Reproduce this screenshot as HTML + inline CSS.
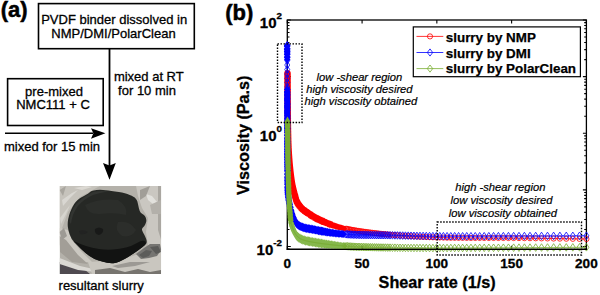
<!DOCTYPE html>
<html><head><meta charset="utf-8">
<style>
html,body{margin:0;padding:0;background:#fff;}
body{width:600px;height:295px;overflow:hidden;}
svg{display:block;font-family:"Liberation Sans",sans-serif;}
</style></head><body>
<svg width="600" height="295" viewBox="0 0 600 295">
<defs>
<clipPath id="plot"><rect x="287.3" y="20.0" width="299.09999999999997" height="229.3"/></clipPath>
<clipPath id="dense"><rect x="287.3" y="20.0" width="134.6" height="229.3"/></clipPath>
<clipPath id="photo"><rect x="59.6" y="185.9" width="101.6" height="88"/></clipPath>
</defs>
<!-- panel a -->
<text x="0.8" y="17.3" font-size="22" font-weight="bold" stroke="#000" stroke-width="0.5">(a)</text>
<rect x="38.5" y="3.6" width="155.8" height="45.1" fill="none" stroke="#000" stroke-width="1.6"/>
<g font-size="13" text-anchor="middle" stroke="#000" stroke-width="0.3">
<text x="114.2" y="24">PVDF binder dissolved in</text>
<text x="113.5" y="38">NMP/DMI/PolarClean</text>
<text x="54" y="95.6">pre-mixed</text>
<text x="53" y="109">NMC111 + C</text>
<text x="52" y="150.8">mixed for 15 min</text>
<text x="148.8" y="81">mixed at RT</text>
<text x="147" y="95">for 10 min</text>
<text x="101.2" y="290.3">resultant slurry</text>
</g>
<rect x="7.6" y="78.7" width="95.6" height="46.8" fill="none" stroke="#000" stroke-width="1.6"/>
<path d="M109.5,48.7V166" stroke="#000" stroke-width="1.8"/>
<path d="M103,163 L109.5,165.5 L115.8,163 L109.5,179.7Z" fill="#000"/>
<path d="M5,133.2H93" stroke="#000" stroke-width="1.6"/>
<path d="M91,128.3 L93.4,133.2 L91,138.8 L105.4,133.2Z" fill="#000"/>
<!-- photo -->
<g clip-path="url(#photo)">
<rect x="59.6" y="185.9" width="101.6" height="88" fill="#b4b1aa"/>
<path d="M59.6,185.9H100L80,197L68,212L59.6,235Z" fill="#c6c3bc"/>
<path d="M62,200L72,193L78,190L70,198L63,206Z" fill="#d9d7d2"/>
<path d="M60,218L66,210L70,205L66,214L61,224Z" fill="#d6d4ce"/>
<path d="M74,188L86,186L92,187L82,190Z" fill="#dcd9d3"/>
<path d="M59.6,228L68,230L72,240L80,250L92,262L75,262L62,250L59.6,245Z" fill="#cbc8c1"/>
<path d="M59.6,236L66,240L78,255L88,264L72,262L60,252Z" fill="#a29e97"/>
<path d="M59.6,262L72,266L85,270L90,274H59.6Z" fill="#4f4a50"/>
<path d="M59.6,258L80,266L98,270L112,266L96,272L78,270L59.6,264Z" fill="#dad8d3"/>
<path d="M88,262L120,260L145,252L161,248V274H92Z" fill="#c9c6bf"/>
<path d="M95,270L110,268L125,272L138,269L150,272L161,270V274H95Z" fill="#77746f"/>
<path d="M136,185.9H161.2V250L148,246L146,232L148,218L142,208L138,196Z" fill="#cac7c1"/>
<path d="M146,194L152,196L157,202L153,204L148,200Z" fill="#e2e1dd"/>
<path d="M158,185.9H161.2V240L158,230Z" fill="#aaa7a1"/>
<path d="M136,254L144,248L150,244L160,244L161.2,250L157,256L149,258L141,259Z" fill="#767572"/>
<path d="M139,255L146,250L152,251L149,256L143,258Z" fill="#5c5c5a"/>
<path d="M150,247L158,246L161,252L156,254Z" fill="#5a5a58"/>
<path d="M140,190L150,186L146,196L140,200Z" fill="#a19e98"/>
<path d="M150,205L161,200V214L152,214Z" fill="#b3b0aa"/>
<path d="M59.6,190L66,186L63,196Z" fill="#a9a69f"/>
<path d="M59.6,232L64,228L67,236L62,240Z" fill="#9d9a94"/>
<path d="M112,266L130,262L150,262L135,266L118,268Z" fill="#9c9994"/>
<path d="M67.8,226.5Q67.5,223.0 68.2,219.0Q69.0,215.0 70.1,212.2Q71.2,209.4 72.6,206.7Q74.0,204.0 75.7,202.1Q77.3,200.2 79.2,198.8Q81.0,197.5 83.0,196.6Q84.9,195.7 86.5,194.6Q88.0,193.5 89.2,192.7Q90.3,191.9 91.7,191.1Q93.0,190.2 96.6,189.9Q100.2,189.6 103.1,189.9Q106.0,190.2 108.5,190.6Q111.0,191.1 115.0,191.5Q119.1,191.9 122.0,192.4Q125.0,193.0 127.4,193.9Q129.8,194.9 131.7,195.7Q133.5,196.5 134.7,197.6Q135.9,198.7 136.7,200.1Q137.5,201.5 137.8,203.2Q138.2,204.8 138.9,208.2Q139.7,211.7 140.8,212.8Q142.0,213.8 143.6,214.7Q145.1,215.5 145.8,217.8Q146.6,220.1 146.2,221.8Q145.8,223.5 145.1,224.8Q144.3,226.2 142.9,227.6Q141.5,229.0 142.2,230.5Q142.8,232.0 143.9,234.1Q145.1,236.1 146.2,239.1Q147.3,242.2 146.2,243.7Q145.1,245.2 142.6,247.1Q140.0,249.0 137.2,250.9Q134.4,252.9 131.2,254.9Q128.0,257.0 125.1,258.8Q122.2,260.5 119.1,261.8Q116.0,263.0 113.5,263.2Q111.0,263.5 107.1,262.8Q103.2,262.0 98.6,260.5Q94.0,259.0 89.5,255.9Q84.9,252.9 81.1,249.1Q77.3,245.2 74.2,242.1Q71.2,239.1 69.7,234.6Q68.1,230.0 67.8,226.5Z" fill="#262825"/>
<path d="M69.5,222Q70,212 76,204Q84,196 93,192Q100,190.5 108,191.5Q100,192.5 93,195Q84,199 78,206Q72,214 71,224Z" fill="#323431"/>
<path d="M85,205Q100,198 118,200Q128,206 126,215Q115,212 100,214Q88,215 85,205Z" fill="#2c2e2b"/>
<path d="M118,222Q130,220 136,230Q132,238 122,236Q114,230 118,222Z" fill="#2c2e2b"/>
<path d="M76.0,242.0Q80.0,244.0 86.0,246.0Q92.0,248.0 99.0,249.0Q106.0,250.0 113.0,249.5Q120.0,249.0 126.0,247.5Q132.0,246.0 137.0,243.0Q142.0,240.0 144.2,241.0Q146.5,242.0 145.8,243.6Q145.0,245.2 142.5,247.1Q140.0,249.0 137.2,250.9Q134.4,252.9 131.2,254.9Q128.0,257.0 125.1,258.8Q122.2,260.5 119.1,261.8Q116.0,263.0 113.5,263.2Q111.0,263.5 107.1,262.8Q103.2,262.0 98.6,260.5Q94.0,259.0 89.5,255.9Q84.9,252.9 81.1,249.1Q77.3,245.2 74.7,242.6Q72.0,240.0 76.0,242.0Z" fill="#121312"/>
<path d="M95,229Q99,226 103,229Q104,233 99,235Q94,234 95,229Z" fill="#181918"/>
<path d="M79,231Q84,229 88,232Q85,235 80,234Z" fill="#222322"/>
</g>
<!-- panel b -->
<text x="225.3" y="20.1" font-size="22" font-weight="bold" stroke="#000" stroke-width="0.5">(b)</text>
<g font-size="13.6" font-weight="bold" stroke="#000" stroke-width="0.3">
<text x="287.30" y="268.4" text-anchor="middle">0</text><text x="362.08" y="268.4" text-anchor="middle">50</text><text x="436.85" y="268.4" text-anchor="middle">100</text><text x="511.62" y="268.4" text-anchor="middle">150</text><text x="586.40" y="268.4" text-anchor="middle">200</text>
<text x="282" y="27.6" text-anchor="end" font-size="15">10<tspan font-size="9.8" dy="-8.8">2</tspan></text>
<text x="282" y="140.8" text-anchor="end" font-size="15">10<tspan font-size="9.8" dy="-8.8">0</tspan></text>
<text x="282" y="254.6" text-anchor="end" font-size="15">10<tspan font-size="9.8" dy="-8.8">-2</tspan></text>
</g>
<text x="437.1" y="288" font-size="16.2" font-weight="bold" text-anchor="middle" stroke="#000" stroke-width="0.3">Shear rate (1/s)</text>
<text transform="translate(249.3,135.2) rotate(-90)" font-size="16.2" font-weight="bold" text-anchor="middle" stroke="#000" stroke-width="0.3">Viscosity (Pa.s)</text>
<rect x="287.3" y="20.0" width="299.1" height="229.3" fill="none" stroke="#000" stroke-width="1.3"/>
<path d="M287.30,249.3v-3.5M287.30,20.0v3.5M362.08,249.3v-3.5M362.08,20.0v3.5M436.85,249.3v-3.5M436.85,20.0v3.5M511.62,249.3v-3.5M511.62,20.0v3.5M586.40,249.3v-3.5M586.40,20.0v3.5M287.3,246.50h3.5M586.4,246.50h-3.5M287.3,189.88h3.5M586.4,189.88h-3.5M287.3,133.25h3.5M586.4,133.25h-3.5M287.3,76.62h3.5M586.4,76.62h-3.5M287.3,20.00h3.5M586.4,20.00h-3.5M287.3,249.09h2.2M586.4,249.09h-2.2M287.3,229.45h2.2M586.4,229.45h-2.2M287.3,219.48h2.2M586.4,219.48h-2.2M287.3,212.41h2.2M586.4,212.41h-2.2M287.3,206.92h2.2M586.4,206.92h-2.2M287.3,202.44h2.2M586.4,202.44h-2.2M287.3,198.65h2.2M586.4,198.65h-2.2M287.3,195.36h2.2M586.4,195.36h-2.2M287.3,192.47h2.2M586.4,192.47h-2.2M287.3,172.83h2.2M586.4,172.83h-2.2M287.3,162.86h2.2M586.4,162.86h-2.2M287.3,155.78h2.2M586.4,155.78h-2.2M287.3,150.30h2.2M586.4,150.30h-2.2M287.3,145.81h2.2M586.4,145.81h-2.2M287.3,142.02h2.2M586.4,142.02h-2.2M287.3,138.74h2.2M586.4,138.74h-2.2M287.3,135.84h2.2M586.4,135.84h-2.2M287.3,116.20h2.2M586.4,116.20h-2.2M287.3,106.23h2.2M586.4,106.23h-2.2M287.3,99.16h2.2M586.4,99.16h-2.2M287.3,93.67h2.2M586.4,93.67h-2.2M287.3,89.19h2.2M586.4,89.19h-2.2M287.3,85.40h2.2M586.4,85.40h-2.2M287.3,82.11h2.2M586.4,82.11h-2.2M287.3,79.22h2.2M586.4,79.22h-2.2M287.3,59.58h2.2M586.4,59.58h-2.2M287.3,49.61h2.2M586.4,49.61h-2.2M287.3,42.53h2.2M586.4,42.53h-2.2M287.3,37.05h2.2M586.4,37.05h-2.2M287.3,32.56h2.2M586.4,32.56h-2.2M287.3,28.77h2.2M586.4,28.77h-2.2M287.3,25.49h2.2M586.4,25.49h-2.2M287.3,22.59h2.2M586.4,22.59h-2.2" stroke="#000" stroke-width="1.1" fill="none"/>
<g>
<path d="M284.20,73.50a3.30,3.60 0 1,0 6.60,0a3.30,3.60 0 1,0 -6.60,0M284.21,74.50a3.30,3.60 0 1,0 6.60,0a3.30,3.60 0 1,0 -6.60,0M284.21,75.50a3.30,3.60 0 1,0 6.60,0a3.30,3.60 0 1,0 -6.60,0M284.22,76.50a3.30,3.60 0 1,0 6.60,0a3.30,3.60 0 1,0 -6.60,0M284.23,78.00a3.30,3.60 0 1,0 6.60,0a3.30,3.60 0 1,0 -6.60,0M284.23,79.00a3.30,3.60 0 1,0 6.60,0a3.30,3.60 0 1,0 -6.60,0M284.24,80.00a3.30,3.60 0 1,0 6.60,0a3.30,3.60 0 1,0 -6.60,0M284.24,81.50a3.30,3.60 0 1,0 6.60,0a3.30,3.60 0 1,0 -6.60,0M284.25,82.50a3.30,3.60 0 1,0 6.60,0a3.30,3.60 0 1,0 -6.60,0M284.25,84.00a3.30,3.60 0 1,0 6.60,0a3.30,3.60 0 1,0 -6.60,0M284.26,85.50a3.30,3.60 0 1,0 6.60,0a3.30,3.60 0 1,0 -6.60,0M284.26,86.50a3.30,3.60 0 1,0 6.60,0a3.30,3.60 0 1,0 -6.60,0M284.27,88.00a3.30,3.60 0 1,0 6.60,0a3.30,3.60 0 1,0 -6.60,0M284.27,89.00a3.30,3.60 0 1,0 6.60,0a3.30,3.60 0 1,0 -6.60,0M284.28,90.50a3.30,3.60 0 1,0 6.60,0a3.30,3.60 0 1,0 -6.60,0M284.28,91.50a3.30,3.60 0 1,0 6.60,0a3.30,3.60 0 1,0 -6.60,0M284.29,93.00a3.30,3.60 0 1,0 6.60,0a3.30,3.60 0 1,0 -6.60,0M284.29,94.50a3.30,3.60 0 1,0 6.60,0a3.30,3.60 0 1,0 -6.60,0M284.30,96.00a3.30,3.60 0 1,0 6.60,0a3.30,3.60 0 1,0 -6.60,0M284.30,97.50a3.30,3.60 0 1,0 6.60,0a3.30,3.60 0 1,0 -6.60,0M284.31,99.00a3.30,3.60 0 1,0 6.60,0a3.30,3.60 0 1,0 -6.60,0M284.31,100.00a3.30,3.60 0 1,0 6.60,0a3.30,3.60 0 1,0 -6.60,0M284.32,101.50a3.30,3.60 0 1,0 6.60,0a3.30,3.60 0 1,0 -6.60,0M284.33,102.50a3.30,3.60 0 1,0 6.60,0a3.30,3.60 0 1,0 -6.60,0M284.33,103.50a3.30,3.60 0 1,0 6.60,0a3.30,3.60 0 1,0 -6.60,0M284.34,104.50a3.30,3.60 0 1,0 6.60,0a3.30,3.60 0 1,0 -6.60,0M284.35,106.00a3.30,3.60 0 1,0 6.60,0a3.30,3.60 0 1,0 -6.60,0M284.36,107.50a3.30,3.60 0 1,0 6.60,0a3.30,3.60 0 1,0 -6.60,0M284.37,108.50a3.30,3.60 0 1,0 6.60,0a3.30,3.60 0 1,0 -6.60,0M284.38,110.00a3.30,3.60 0 1,0 6.60,0a3.30,3.60 0 1,0 -6.60,0M284.39,111.00a3.30,3.60 0 1,0 6.60,0a3.30,3.60 0 1,0 -6.60,0M284.40,112.50a3.30,3.60 0 1,0 6.60,0a3.30,3.60 0 1,0 -6.60,0M284.42,114.00a3.30,3.60 0 1,0 6.60,0a3.30,3.60 0 1,0 -6.60,0M284.44,115.50a3.30,3.60 0 1,0 6.60,0a3.30,3.60 0 1,0 -6.60,0M284.46,117.00a3.30,3.60 0 1,0 6.60,0a3.30,3.60 0 1,0 -6.60,0M284.47,118.00a3.30,3.60 0 1,0 6.60,0a3.30,3.60 0 1,0 -6.60,0M284.49,119.00a3.30,3.60 0 1,0 6.60,0a3.30,3.60 0 1,0 -6.60,0M284.51,120.50a3.30,3.60 0 1,0 6.60,0a3.30,3.60 0 1,0 -6.60,0M284.52,121.50a3.30,3.60 0 1,0 6.60,0a3.30,3.60 0 1,0 -6.60,0M284.54,122.50a3.30,3.60 0 1,0 6.60,0a3.30,3.60 0 1,0 -6.60,0M284.57,124.00a3.30,3.60 0 1,0 6.60,0a3.30,3.60 0 1,0 -6.60,0M284.59,125.50a3.30,3.60 0 1,0 6.60,0a3.30,3.60 0 1,0 -6.60,0M284.62,127.00a3.30,3.60 0 1,0 6.60,0a3.30,3.60 0 1,0 -6.60,0M284.64,128.50a3.30,3.60 0 1,0 6.60,0a3.30,3.60 0 1,0 -6.60,0M284.67,130.00a3.30,3.60 0 1,0 6.60,0a3.30,3.60 0 1,0 -6.60,0M284.70,131.50a3.30,3.60 0 1,0 6.60,0a3.30,3.60 0 1,0 -6.60,0M284.73,133.00a3.30,3.60 0 1,0 6.60,0a3.30,3.60 0 1,0 -6.60,0M284.76,134.50a3.30,3.60 0 1,0 6.60,0a3.30,3.60 0 1,0 -6.60,0M284.78,135.50a3.30,3.60 0 1,0 6.60,0a3.30,3.60 0 1,0 -6.60,0M284.82,137.00a3.30,3.60 0 1,0 6.60,0a3.30,3.60 0 1,0 -6.60,0M284.86,138.50a3.30,3.60 0 1,0 6.60,0a3.30,3.60 0 1,0 -6.60,0M284.90,139.99a3.30,3.60 0 1,0 6.60,0a3.30,3.60 0 1,0 -6.60,0M284.95,141.49a3.30,3.60 0 1,0 6.60,0a3.30,3.60 0 1,0 -6.60,0M285.00,142.99a3.30,3.60 0 1,0 6.60,0a3.30,3.60 0 1,0 -6.60,0M285.05,144.49a3.30,3.60 0 1,0 6.60,0a3.30,3.60 0 1,0 -6.60,0M285.11,145.99a3.30,3.60 0 1,0 6.60,0a3.30,3.60 0 1,0 -6.60,0M285.15,146.99a3.30,3.60 0 1,0 6.60,0a3.30,3.60 0 1,0 -6.60,0M285.22,148.49a3.30,3.60 0 1,0 6.60,0a3.30,3.60 0 1,0 -6.60,0M285.30,149.99a3.30,3.60 0 1,0 6.60,0a3.30,3.60 0 1,0 -6.60,0M285.38,151.48a3.30,3.60 0 1,0 6.60,0a3.30,3.60 0 1,0 -6.60,0M285.47,152.98a3.30,3.60 0 1,0 6.60,0a3.30,3.60 0 1,0 -6.60,0M285.56,154.48a3.30,3.60 0 1,0 6.60,0a3.30,3.60 0 1,0 -6.60,0M285.66,155.98a3.30,3.60 0 1,0 6.60,0a3.30,3.60 0 1,0 -6.60,0M285.73,156.97a3.30,3.60 0 1,0 6.60,0a3.30,3.60 0 1,0 -6.60,0M285.84,158.47a3.30,3.60 0 1,0 6.60,0a3.30,3.60 0 1,0 -6.60,0M285.96,159.96a3.30,3.60 0 1,0 6.60,0a3.30,3.60 0 1,0 -6.60,0M286.08,161.46a3.30,3.60 0 1,0 6.60,0a3.30,3.60 0 1,0 -6.60,0M286.20,162.95a3.30,3.60 0 1,0 6.60,0a3.30,3.60 0 1,0 -6.60,0M286.34,164.45a3.30,3.60 0 1,0 6.60,0a3.30,3.60 0 1,0 -6.60,0M286.48,165.94a3.30,3.60 0 1,0 6.60,0a3.30,3.60 0 1,0 -6.60,0M286.63,167.43a3.30,3.60 0 1,0 6.60,0a3.30,3.60 0 1,0 -6.60,0M286.73,168.43a3.30,3.60 0 1,0 6.60,0a3.30,3.60 0 1,0 -6.60,0M286.89,169.92a3.30,3.60 0 1,0 6.60,0a3.30,3.60 0 1,0 -6.60,0M287.06,171.41a3.30,3.60 0 1,0 6.60,0a3.30,3.60 0 1,0 -6.60,0M287.17,172.40a3.30,3.60 0 1,0 6.60,0a3.30,3.60 0 1,0 -6.60,0M287.34,173.89a3.30,3.60 0 1,0 6.60,0a3.30,3.60 0 1,0 -6.60,0M287.53,175.38a3.30,3.60 0 1,0 6.60,0a3.30,3.60 0 1,0 -6.60,0M287.65,176.38a3.30,3.60 0 1,0 6.60,0a3.30,3.60 0 1,0 -6.60,0M287.85,177.86a3.30,3.60 0 1,0 6.60,0a3.30,3.60 0 1,0 -6.60,0M287.99,178.85a3.30,3.60 0 1,0 6.60,0a3.30,3.60 0 1,0 -6.60,0M288.20,180.34a3.30,3.60 0 1,0 6.60,0a3.30,3.60 0 1,0 -6.60,0M288.36,181.33a3.30,3.60 0 1,0 6.60,0a3.30,3.60 0 1,0 -6.60,0M288.60,182.81a3.30,3.60 0 1,0 6.60,0a3.30,3.60 0 1,0 -6.60,0M288.87,184.28a3.30,3.60 0 1,0 6.60,0a3.30,3.60 0 1,0 -6.60,0M289.15,185.75a3.30,3.60 0 1,0 6.60,0a3.30,3.60 0 1,0 -6.60,0M289.47,187.22a3.30,3.60 0 1,0 6.60,0a3.30,3.60 0 1,0 -6.60,0M289.81,188.68a3.30,3.60 0 1,0 6.60,0a3.30,3.60 0 1,0 -6.60,0M290.17,190.14a3.30,3.60 0 1,0 6.60,0a3.30,3.60 0 1,0 -6.60,0M290.55,191.59a3.30,3.60 0 1,0 6.60,0a3.30,3.60 0 1,0 -6.60,0M290.95,193.03a3.30,3.60 0 1,0 6.60,0a3.30,3.60 0 1,0 -6.60,0M291.35,194.48a3.30,3.60 0 1,0 6.60,0a3.30,3.60 0 1,0 -6.60,0M291.75,195.93a3.30,3.60 0 1,0 6.60,0a3.30,3.60 0 1,0 -6.60,0M292.12,197.38a3.30,3.60 0 1,0 6.60,0a3.30,3.60 0 1,0 -6.60,0M292.50,198.83a3.30,3.60 0 1,0 6.60,0a3.30,3.60 0 1,0 -6.60,0M292.95,200.26a3.30,3.60 0 1,0 6.60,0a3.30,3.60 0 1,0 -6.60,0M293.53,201.64a3.30,3.60 0 1,0 6.60,0a3.30,3.60 0 1,0 -6.60,0M294.24,202.97a3.30,3.60 0 1,0 6.60,0a3.30,3.60 0 1,0 -6.60,0M295.04,204.23a3.30,3.60 0 1,0 6.60,0a3.30,3.60 0 1,0 -6.60,0M295.92,205.45a3.30,3.60 0 1,0 6.60,0a3.30,3.60 0 1,0 -6.60,0M296.86,206.61a3.30,3.60 0 1,0 6.60,0a3.30,3.60 0 1,0 -6.60,0M297.86,207.73a3.30,3.60 0 1,0 6.60,0a3.30,3.60 0 1,0 -6.60,0M298.91,208.80a3.30,3.60 0 1,0 6.60,0a3.30,3.60 0 1,0 -6.60,0M300.03,209.79a3.30,3.60 0 1,0 6.60,0a3.30,3.60 0 1,0 -6.60,0M301.22,210.71a3.30,3.60 0 1,0 6.60,0a3.30,3.60 0 1,0 -6.60,0M302.44,211.58a3.30,3.60 0 1,0 6.60,0a3.30,3.60 0 1,0 -6.60,0M303.69,212.42a3.30,3.60 0 1,0 6.60,0a3.30,3.60 0 1,0 -6.60,0M304.93,213.25a3.30,3.60 0 1,0 6.60,0a3.30,3.60 0 1,0 -6.60,0M306.18,214.09a3.30,3.60 0 1,0 6.60,0a3.30,3.60 0 1,0 -6.60,0M307.43,214.92a3.30,3.60 0 1,0 6.60,0a3.30,3.60 0 1,0 -6.60,0M308.69,215.73a3.30,3.60 0 1,0 6.60,0a3.30,3.60 0 1,0 -6.60,0M309.97,216.52a3.30,3.60 0 1,0 6.60,0a3.30,3.60 0 1,0 -6.60,0M311.26,217.28a3.30,3.60 0 1,0 6.60,0a3.30,3.60 0 1,0 -6.60,0M312.57,218.01a3.30,3.60 0 1,0 6.60,0a3.30,3.60 0 1,0 -6.60,0M313.90,218.71a3.30,3.60 0 1,0 6.60,0a3.30,3.60 0 1,0 -6.60,0M315.24,219.38a3.30,3.60 0 1,0 6.60,0a3.30,3.60 0 1,0 -6.60,0M316.60,220.02a3.30,3.60 0 1,0 6.60,0a3.30,3.60 0 1,0 -6.60,0M318.00,220.63a3.26,3.55 0 1,0 6.53,0a3.26,3.55 0 1,0 -6.53,0M319.41,221.23a3.23,3.49 0 1,0 6.45,0a3.23,3.49 0 1,0 -6.45,0M320.83,221.83a3.19,3.44 0 1,0 6.38,0a3.19,3.44 0 1,0 -6.38,0M321.77,222.22a3.16,3.40 0 1,0 6.32,0a3.16,3.40 0 1,0 -6.32,0M323.20,222.80a3.12,3.35 0 1,0 6.25,0a3.12,3.35 0 1,0 -6.25,0M324.62,223.36a3.08,3.29 0 1,0 6.17,0a3.08,3.29 0 1,0 -6.17,0M326.06,223.92a3.05,3.24 0 1,0 6.09,0a3.05,3.24 0 1,0 -6.09,0M327.50,224.45a3.01,3.18 0 1,0 6.01,0a3.01,3.18 0 1,0 -6.01,0M328.46,224.80a2.98,3.14 0 1,0 5.96,0a2.98,3.14 0 1,0 -5.96,0M329.92,225.30a2.94,3.09 0 1,0 5.88,0a2.94,3.09 0 1,0 -5.88,0M330.89,225.62a2.91,3.05 0 1,0 5.83,0a2.91,3.05 0 1,0 -5.83,0M332.36,226.07a2.87,2.99 0 1,0 5.75,0a2.87,2.99 0 1,0 -5.75,0M333.84,226.49a2.83,2.93 0 1,0 5.67,0a2.83,2.93 0 1,0 -5.67,0M335.33,226.89a2.79,2.88 0 1,0 5.59,0a2.79,2.88 0 1,0 -5.59,0M336.82,227.27a2.75,2.82 0 1,0 5.50,0a2.75,2.82 0 1,0 -5.50,0M338.32,227.63a2.71,2.76 0 1,0 5.42,0a2.71,2.76 0 1,0 -5.42,0M339.82,227.96a2.67,2.70 0 1,0 5.34,0a2.67,2.70 0 1,0 -5.34,0M341.33,228.29a2.63,2.64 0 1,0 5.26,0a2.63,2.64 0 1,0 -5.26,0" fill="#ff0000"/>
<path d="M341.40,228.30a2.60,2.60 0 1,0 5.20,0a2.60,2.60 0 1,0 -5.20,0M342.40,228.51a2.60,2.60 0 1,0 5.20,0a2.60,2.60 0 1,0 -5.20,0M343.40,228.71a2.60,2.60 0 1,0 5.20,0a2.60,2.60 0 1,0 -5.20,0M344.40,228.91a2.60,2.60 0 1,0 5.20,0a2.60,2.60 0 1,0 -5.20,0M345.40,229.11a2.60,2.60 0 1,0 5.20,0a2.60,2.60 0 1,0 -5.20,0M346.40,229.31a2.60,2.60 0 1,0 5.20,0a2.60,2.60 0 1,0 -5.20,0M347.40,229.50a2.60,2.60 0 1,0 5.20,0a2.60,2.60 0 1,0 -5.20,0M348.40,229.69a2.60,2.60 0 1,0 5.20,0a2.60,2.60 0 1,0 -5.20,0M349.40,229.87a2.60,2.60 0 1,0 5.20,0a2.60,2.60 0 1,0 -5.20,0M350.40,230.05a2.60,2.60 0 1,0 5.20,0a2.60,2.60 0 1,0 -5.20,0M351.40,230.22a2.60,2.60 0 1,0 5.20,0a2.60,2.60 0 1,0 -5.20,0M352.40,230.39a2.60,2.60 0 1,0 5.20,0a2.60,2.60 0 1,0 -5.20,0M353.40,230.55a2.60,2.60 0 1,0 5.20,0a2.60,2.60 0 1,0 -5.20,0M354.40,230.71a2.60,2.60 0 1,0 5.20,0a2.60,2.60 0 1,0 -5.20,0M355.40,230.86a2.60,2.60 0 1,0 5.20,0a2.60,2.60 0 1,0 -5.20,0M356.40,231.01a2.60,2.60 0 1,0 5.20,0a2.60,2.60 0 1,0 -5.20,0M357.40,231.16a2.60,2.60 0 1,0 5.20,0a2.60,2.60 0 1,0 -5.20,0M358.40,231.31a2.60,2.60 0 1,0 5.20,0a2.60,2.60 0 1,0 -5.20,0M359.40,231.45a2.60,2.60 0 1,0 5.20,0a2.60,2.60 0 1,0 -5.20,0M360.40,231.59a2.60,2.60 0 1,0 5.20,0a2.60,2.60 0 1,0 -5.20,0M361.40,231.72a2.60,2.60 0 1,0 5.20,0a2.60,2.60 0 1,0 -5.20,0M362.40,231.86a2.60,2.60 0 1,0 5.20,0a2.60,2.60 0 1,0 -5.20,0M363.40,231.99a2.60,2.60 0 1,0 5.20,0a2.60,2.60 0 1,0 -5.20,0M364.40,232.12a2.60,2.60 0 1,0 5.20,0a2.60,2.60 0 1,0 -5.20,0M365.40,232.25a2.60,2.60 0 1,0 5.20,0a2.60,2.60 0 1,0 -5.20,0M366.40,232.37a2.60,2.60 0 1,0 5.20,0a2.60,2.60 0 1,0 -5.20,0M367.40,232.50a2.60,2.60 0 1,0 5.20,0a2.60,2.60 0 1,0 -5.20,0M368.40,232.62a2.60,2.60 0 1,0 5.20,0a2.60,2.60 0 1,0 -5.20,0M369.40,232.75a2.60,2.60 0 1,0 5.20,0a2.60,2.60 0 1,0 -5.20,0M370.40,232.87a2.60,2.60 0 1,0 5.20,0a2.60,2.60 0 1,0 -5.20,0M371.40,232.99a2.60,2.60 0 1,0 5.20,0a2.60,2.60 0 1,0 -5.20,0M372.40,233.10a2.60,2.60 0 1,0 5.20,0a2.60,2.60 0 1,0 -5.20,0M373.40,233.22a2.60,2.60 0 1,0 5.20,0a2.60,2.60 0 1,0 -5.20,0M374.40,233.33a2.60,2.60 0 1,0 5.20,0a2.60,2.60 0 1,0 -5.20,0M375.40,233.44a2.60,2.60 0 1,0 5.20,0a2.60,2.60 0 1,0 -5.20,0M376.40,233.55a2.60,2.60 0 1,0 5.20,0a2.60,2.60 0 1,0 -5.20,0M377.40,233.66a2.60,2.60 0 1,0 5.20,0a2.60,2.60 0 1,0 -5.20,0M378.40,233.77a2.60,2.60 0 1,0 5.20,0a2.60,2.60 0 1,0 -5.20,0M379.40,233.88a2.60,2.60 0 1,0 5.20,0a2.60,2.60 0 1,0 -5.20,0M380.40,233.98a2.60,2.60 0 1,0 5.20,0a2.60,2.60 0 1,0 -5.20,0M381.40,234.08a2.60,2.60 0 1,0 5.20,0a2.60,2.60 0 1,0 -5.20,0M382.40,234.18a2.60,2.60 0 1,0 5.20,0a2.60,2.60 0 1,0 -5.20,0M383.40,234.28a2.60,2.60 0 1,0 5.20,0a2.60,2.60 0 1,0 -5.20,0M384.40,234.38a2.60,2.60 0 1,0 5.20,0a2.60,2.60 0 1,0 -5.20,0M385.40,234.48a2.60,2.60 0 1,0 5.20,0a2.60,2.60 0 1,0 -5.20,0M386.40,234.57a2.60,2.60 0 1,0 5.20,0a2.60,2.60 0 1,0 -5.20,0" fill="#ff0000" opacity="0.35"/>
<path d="M287.50,73.00 L287.50,73.50 L287.51,74.00 L287.51,74.50 L287.51,75.00 L287.51,75.50 L287.52,76.00 L287.52,76.50 L287.52,77.00 L287.53,77.50 L287.53,78.00 L287.53,78.50 L287.53,79.00 L287.53,79.50 L287.54,80.00 L287.54,80.50 L287.54,81.00 L287.54,81.50 L287.55,82.00 L287.55,82.50 L287.55,83.00 L287.55,83.50 L287.55,84.00 L287.55,84.50 L287.56,85.00 L287.56,85.50 L287.56,86.00 L287.56,86.50 L287.56,87.00 L287.57,87.50 L287.57,88.00 L287.57,88.50 L287.57,89.00 L287.57,89.50 L287.57,90.00 L287.58,90.50 L287.58,91.00 L287.58,91.50 L287.58,92.00 L287.58,92.50 L287.59,93.00 L287.59,93.50 L287.59,94.00 L287.59,94.50 L287.59,95.00 L287.59,95.50 L287.60,96.00 L287.60,96.50 L287.60,97.00 L287.60,97.50 L287.61,98.00 L287.61,98.50 L287.61,99.00 L287.61,99.50 L287.61,100.00 L287.62,100.50 L287.62,101.00 L287.62,101.50 L287.62,102.00 L287.63,102.50 L287.63,103.00 L287.63,103.50 L287.64,104.00 L287.64,104.50 L287.64,105.00 L287.65,105.50 L287.65,106.00 L287.65,106.50 L287.66,107.00 L287.66,107.50 L287.66,108.00 L287.67,108.50 L287.67,109.00 L287.67,109.50 L287.68,110.00 L287.68,110.50 L287.69,111.00 L287.69,111.50 L287.70,112.00 L287.70,112.50 L287.71,113.00 L287.71,113.50 L287.72,114.00 L287.72,114.50 L287.73,115.00 L287.74,115.50 L287.74,116.00 L287.75,116.50 L287.76,117.00 L287.76,117.50 L287.77,118.00 L287.78,118.50 L287.79,119.00 L287.79,119.50 L287.80,120.00 L287.81,120.50 L287.82,121.00 L287.82,121.50 L287.83,122.00 L287.84,122.50 L287.85,123.00 L287.86,123.50 L287.87,124.00 L287.87,124.50 L287.88,125.00 L287.89,125.50 L287.90,126.00 L287.91,126.50 L287.92,127.00 L287.92,127.50 L287.93,128.00 L287.94,128.50 L287.95,129.00 L287.96,129.50 L287.97,130.00 L287.98,130.50 L287.99,131.00 L288.00,131.50 L288.01,132.00 L288.02,132.50 L288.03,133.00 L288.04,133.50 L288.05,134.00 L288.06,134.50 L288.07,135.00 L288.08,135.50 L288.09,136.00 L288.11,136.50 L288.12,137.00 L288.13,137.50 L288.14,138.00 L288.16,138.50 L288.17,139.00 L288.19,139.49 L288.20,139.99 L288.21,140.49 L288.23,140.99 L288.25,141.49 L288.26,141.99 L288.28,142.49 L288.30,142.99 L288.31,143.49 L288.33,143.99 L288.35,144.49 L288.37,144.99 L288.39,145.49 L288.41,145.99 L288.43,146.49 L288.45,146.99 L288.48,147.49 L288.50,147.99 L288.52,148.49 L288.55,148.99 L288.57,149.49 L288.60,149.99 L288.63,150.49 L288.65,150.98 L288.68,151.48 L288.71,151.98 L288.74,152.48 L288.77,152.98 L288.80,153.48 L288.83,153.98 L288.86,154.48 L288.90,154.98 L288.93,155.48 L288.96,155.98 L289.00,156.47 L289.03,156.97 L289.07,157.47 L289.10,157.97 L289.14,158.47 L289.18,158.97 L289.22,159.47 L289.26,159.96 L289.29,160.46 L289.34,160.96 L289.38,161.46 L289.42,161.96 L289.46,162.46 L289.50,162.95 L289.55,163.45 L289.59,163.95 L289.64,164.45 L289.69,164.95 L289.73,165.44 L289.78,165.94 L289.83,166.44 L289.88,166.94 L289.93,167.43 L289.98,167.93 L290.03,168.43 L290.08,168.93 L290.14,169.42 L290.19,169.92 L290.25,170.42 L290.30,170.91 L290.36,171.41 L290.41,171.91 L290.47,172.40 L290.53,172.90 L290.59,173.40 L290.64,173.89 L290.70,174.39 L290.77,174.89 L290.83,175.38 L290.89,175.88 L290.95,176.38 L291.02,176.87 L291.08,177.37 L291.15,177.86 L291.22,178.36 L291.29,178.85 L291.36,179.35 L291.43,179.84 L291.50,180.34 L291.58,180.83 L291.66,181.33 L291.74,181.82 L291.82,182.31 L291.90,182.81 L291.99,183.30 L292.07,183.79 L292.17,184.28 L292.26,184.77 L292.35,185.26 L292.45,185.75 L292.55,186.24 L292.66,186.73 L292.77,187.22 L292.88,187.71 L292.99,188.20 L293.11,188.68 L293.23,189.17 L293.35,189.65 L293.47,190.14 L293.60,190.62 L293.72,191.10 L293.85,191.59 L293.98,192.07 L294.12,192.55 L294.25,193.03 L294.38,193.52 L294.52,194.00 L294.65,194.48 L294.79,194.96 L294.92,195.44 L295.05,195.93 L295.17,196.41 L295.30,196.89 L295.42,197.38 L295.54,197.86 L295.67,198.35 L295.80,198.83 L295.94,199.31 L296.09,199.79 L296.25,200.26 L296.43,200.73 L296.62,201.19 L296.83,201.64 L297.05,202.09 L297.29,202.53 L297.54,202.97 L297.80,203.39 L298.06,203.82 L298.34,204.23 L298.63,204.64 L298.92,205.05 L299.22,205.45 L299.53,205.84 L299.84,206.23 L300.16,206.61 L300.49,206.99 L300.82,207.36 L301.16,207.73 L301.50,208.10 L301.85,208.45 L302.21,208.80 L302.58,209.14 L302.95,209.47 L303.33,209.79 L303.72,210.11 L304.12,210.42 L304.52,210.71 L304.92,211.01 L305.33,211.30 L305.74,211.58 L306.16,211.86 L306.57,212.14 L306.99,212.42 L307.40,212.70 L307.82,212.97 L308.23,213.25 L308.65,213.53 L309.06,213.81 L309.48,214.09 L309.89,214.37 L310.31,214.65 L310.73,214.92 L311.15,215.19 L311.57,215.47 L311.99,215.73 L312.41,216.00 L312.84,216.26 L313.27,216.52 L313.69,216.78 L314.13,217.03 L314.56,217.28 L314.99,217.53 L315.43,217.77 L315.87,218.01 L316.31,218.25 L316.75,218.48 L317.20,218.71 L317.64,218.94 L318.09,219.16 L318.54,219.38 L318.99,219.59 L319.44,219.81 L319.90,220.02 L320.35,220.22 L320.81,220.43 L321.26,220.63 L321.72,220.83 L322.18,221.03 L322.64,221.23 L323.10,221.43 L323.56,221.63 L324.02,221.83 L324.48,222.02 L324.94,222.22 L325.40,222.41 L325.86,222.61 L326.32,222.80 L326.78,222.99 L327.25,223.18 L327.71,223.36 L328.17,223.55 L328.64,223.73 L329.10,223.92 L329.57,224.10 L330.04,224.28 L330.50,224.45 L330.97,224.63 L331.44,224.80 L331.91,224.97 L332.38,225.13 L332.86,225.30 L333.33,225.46 L333.80,225.62 L334.28,225.77 L334.76,225.92 L335.23,226.07 L335.71,226.21 L336.19,226.36 L336.67,226.49 L337.15,226.63 L337.64,226.76 L338.12,226.89 L338.60,227.02 L339.09,227.15 L339.57,227.27 L340.06,227.39 L340.54,227.51 L341.03,227.63 L341.51,227.74 L342.00,227.85 L342.49,227.96 L342.98,228.07 L343.47,228.18 L343.95,228.29 L344.44,228.39 L344.93,228.49 L345.42,228.59 L345.91,228.70 L346.40,228.80 L346.89,228.89 L347.38,228.99 L347.87,229.09 L348.36,229.18 L348.85,229.28 L349.35,229.37 L349.84,229.47 L350.33,229.56 L350.82,229.65 L351.31,229.75 L351.80,229.83 L352.30,229.92 L352.79,230.01 L353.28,230.10 L353.77,230.18 L354.27,230.26 L354.76,230.35 L355.25,230.43 L355.75,230.51 L356.24,230.59 L356.73,230.67 L357.23,230.74 L357.72,230.82 L358.22,230.90 L358.71,230.97 L359.20,231.05 L359.70,231.12 L360.19,231.19 L360.69,231.26 L361.18,231.33 L361.68,231.40 L362.17,231.47 L362.67,231.54 L363.16,231.61 L363.66,231.68 L364.16,231.74 L364.65,231.81 L365.15,231.88 L365.64,231.94 L366.14,232.01 L366.63,232.07 L367.13,232.14 L367.63,232.20 L368.12,232.26 L368.62,232.33 L369.11,232.39 L369.61,232.45 L370.11,232.51 L370.60,232.57 L371.10,232.64 L371.59,232.70 L372.09,232.76 L372.59,232.82 L373.08,232.88 L373.58,232.94 L374.08,232.99 L374.57,233.05 L375.07,233.11 L375.57,233.17 L376.06,233.22 L376.56,233.28 L377.06,233.34 L377.55,233.39 L378.05,233.45 L378.55,233.50 L379.04,233.56 L379.54,233.61 L380.04,233.67 L380.54,233.72 L381.03,233.77 L381.53,233.83 L382.03,233.88 L382.52,233.93 L383.02,233.98 L383.52,234.03 L384.02,234.09 L384.51,234.14 L385.01,234.19 L385.51,234.23 L386.01,234.28 L386.50,234.33 L387.00,234.38 L387.50,234.43 L388.00,234.48 L388.50,234.52 L388.99,234.57 L389.49,234.62 L389.99,234.66 L390.49,234.71 L390.98,234.75 L391.48,234.80 L391.98,234.84 L392.48,234.89 L392.98,234.93 L393.48,234.97 L393.97,235.02 L394.47,235.06 L394.97,235.10 L395.47,235.14 L395.97,235.18 L396.46,235.22 L396.96,235.26 L397.46,235.30 L397.96,235.34 L398.46,235.38 L398.96,235.42 L399.46,235.46 L399.95,235.50 L400.45,235.53 L400.95,235.57 L401.45,235.61 L401.95,235.64 L402.45,235.68 L402.95,235.72 L403.44,235.75 L403.94,235.78 L404.44,235.82 L404.94,235.85 L405.44,235.89 L405.94,235.92 L406.44,235.96 L406.94,235.99 L407.44,236.02 L407.93,236.05 L408.43,236.09 L408.93,236.12 L409.43,236.15 L409.93,236.18 L410.43,236.21 L410.93,236.24 L411.43,236.27 L411.93,236.30 L412.43,236.33 L412.93,236.36 L413.42,236.39 L413.92,236.42 L414.42,236.45 L414.92,236.47 L415.42,236.50 L415.92,236.53 L416.42,236.56 L416.92,236.58 L417.42,236.61 L417.92,236.63 L418.42,236.66 L418.92,236.69 L419.42,236.71 L419.92,236.73 L420.41,236.76 L420.91,236.78 L421.41,236.81 L421.91,236.83 L422.41,236.85 L422.91,236.88 L423.41,236.90 L423.91,236.92 L424.41,236.94 L424.91,236.96 L425.41,236.99 L425.91,237.01 L426.41,237.03 L426.91,237.05 L427.41,237.07 L427.91,237.09 L428.41,237.11 L428.91,237.13 L429.41,237.15 L429.91,237.17 L430.41,237.18 L430.91,237.20 L431.40,237.22 L431.90,237.24 L432.40,237.26 L432.90,237.27 L433.40,237.29 L433.90,237.31 L434.40,237.32 L434.90,237.34 L435.40,237.36 L435.90,237.38 L436.40,237.39 L436.90,237.41 L437.40,237.42 L437.90,237.44 L438.40,237.45 L438.90,237.47 L439.40,237.48 L439.90,237.50 L440.40,237.51 L440.90,237.52 L441.40,237.53 L441.90,237.55 L442.40,237.56 L442.90,237.57 L443.40,237.58 L443.90,237.60 L444.40,237.61 L444.90,237.62 L445.40,237.63 L445.90,237.64 L446.40,237.65 L446.90,237.66 L447.40,237.67 L447.90,237.68 L448.40,237.69 L448.90,237.70 L449.40,237.70 L449.90,237.71 L450.40,237.72 L450.90,237.73 L451.40,237.74 L451.90,237.75 L452.40,237.75 L452.90,237.76 L453.40,237.77 L453.90,237.77 L454.40,237.78 L454.90,237.78 L455.40,237.79 L455.90,237.80 L456.40,237.80 L456.90,237.81 L457.40,237.81 L457.90,237.82 L458.40,237.83 L458.90,237.83 L459.40,237.83 L459.90,237.84 L460.40,237.84 L460.90,237.85 L461.40,237.85 L461.90,237.85 L462.40,237.86 L462.90,237.86 L463.40,237.87 L463.90,237.87 L464.40,237.87 L464.90,237.88 L465.40,237.88 L465.90,237.88 L466.40,237.89 L466.90,237.89 L467.40,237.89 L467.90,237.89 L468.40,237.90 L468.90,237.90 L469.40,237.90 L469.90,237.90 L470.40,237.91 L470.90,237.91 L471.40,237.91 L471.90,237.91 L472.40,237.92 L472.90,237.92 L473.40,237.92 L473.90,237.92 L474.40,237.92 L474.90,237.92 L475.40,237.93 L475.90,237.93 L476.40,237.93 L476.90,237.93 L477.40,237.93 L477.90,237.93 L478.40,237.94 L478.90,237.94 L479.40,237.94 L479.90,237.94 L480.40,237.94 L480.90,237.94 L481.40,237.94 L481.90,237.94 L482.40,237.95 L482.90,237.95 L483.40,237.95 L483.90,237.95 L484.40,237.95 L484.90,237.95 L485.40,237.95 L485.90,237.95 L486.40,237.95 L486.90,237.96 L487.40,237.96 L487.90,237.96 L488.40,237.96 L488.90,237.96 L489.40,237.96 L489.90,237.96 L490.40,237.96 L490.90,237.96 L491.40,237.96 L491.90,237.96 L492.40,237.97 L492.90,237.97 L493.40,237.97 L493.90,237.97 L494.40,237.97 L494.90,237.97 L495.40,237.97 L495.90,237.97 L496.40,237.97 L496.90,237.98 L497.40,237.98 L497.90,237.98 L498.40,237.98 L498.90,237.98 L499.40,237.98 L499.90,237.98 L500.40,237.98 L500.90,237.99 L501.40,237.99 L501.90,237.99 L502.40,237.99 L502.90,237.99 L503.40,237.99 L503.90,238.00 L504.40,238.00 L504.90,238.00 L505.40,238.00 L505.90,238.00 L506.40,238.01 L506.90,238.01 L507.40,238.01 L507.90,238.01 L508.40,238.02 L508.90,238.02 L509.40,238.02 L509.90,238.02 L510.40,238.03 L510.90,238.03 L511.40,238.03 L511.90,238.04 L512.40,238.04 L512.90,238.04 L513.40,238.04 L513.90,238.05 L514.40,238.05 L514.90,238.06 L515.40,238.06 L515.90,238.06 L516.40,238.07 L516.90,238.07 L517.40,238.08 L517.90,238.08 L518.40,238.09 L518.90,238.09 L519.40,238.09 L519.90,238.10 L520.40,238.10 L520.90,238.11 L521.40,238.12 L521.90,238.12 L522.40,238.13 L522.90,238.13 L523.40,238.14 L523.90,238.14 L524.40,238.15 L524.90,238.15 L525.40,238.16 L525.90,238.16 L526.40,238.17 L526.90,238.18 L527.40,238.18 L527.90,238.19 L528.40,238.19 L528.90,238.20 L529.40,238.21 L529.90,238.21 L530.40,238.22 L530.90,238.22 L531.40,238.23 L531.90,238.24 L532.40,238.24 L532.90,238.25 L533.40,238.26 L533.90,238.26 L534.40,238.27 L534.90,238.27 L535.40,238.28 L535.90,238.29 L536.40,238.29 L536.90,238.30 L537.40,238.31 L537.90,238.31 L538.40,238.32 L538.90,238.33 L539.39,238.33 L539.89,238.34 L540.39,238.35 L540.89,238.35 L541.39,238.36 L541.89,238.37 L542.39,238.37 L542.89,238.38 L543.39,238.39 L543.89,238.39 L544.39,238.40 L544.89,238.41 L545.39,238.41 L545.89,238.42 L546.39,238.43 L546.89,238.43 L547.39,238.44 L547.89,238.45 L548.39,238.46 L548.89,238.46 L549.39,238.47 L549.89,238.48 L550.39,238.48 L550.89,238.49 L551.39,238.50 L551.89,238.50 L552.39,238.51 L552.89,238.52 L553.39,238.53 L553.89,238.53 L554.39,238.54 L554.89,238.55 L555.39,238.56 L555.89,238.56 L556.39,238.57 L556.89,238.58 L557.39,238.58 L557.89,238.59 L558.39,238.60 L558.89,238.61 L559.39,238.61 L559.89,238.62 L560.39,238.63 L560.89,238.63 L561.39,238.64 L561.89,238.65 L562.39,238.66 L562.89,238.66 L563.39,238.67 L563.89,238.68 L564.39,238.69 L564.89,238.69 L565.39,238.70 L565.89,238.71 L566.39,238.72 L566.89,238.72 L567.39,238.73 L567.89,238.74 L568.39,238.74 L568.89,238.75 L569.39,238.76 L569.89,238.77 L570.39,238.77 L570.89,238.78 L571.39,238.79 L571.89,238.80 L572.39,238.80 L572.89,238.81 L573.39,238.82 L573.89,238.82 L574.39,238.83 L574.89,238.84 L575.39,238.85 L575.89,238.85 L576.39,238.86 L576.89,238.87 L577.39,238.87 L577.89,238.88 L578.39,238.89 L578.89,238.90 L579.39,238.90 L579.89,238.91 L580.39,238.92 L580.89,238.92 L581.39,238.93 L581.89,238.94 L582.39,238.94 L582.89,238.95 L583.39,238.96 L583.89,238.97 L584.39,238.97 L584.89,238.98 L585.39,238.99 L585.89,238.99 L586.39,239.00" fill="none" stroke="#ff0000" stroke-width="1"/>
<path d="M589.00,239.00a2.6,2.6 0 1,0 -5.2,0a2.6,2.6 0 1,0 5.2,0M582.13,238.90a2.6,2.6 0 1,0 -5.2,0a2.6,2.6 0 1,0 5.2,0M575.42,238.81a2.6,2.6 0 1,0 -5.2,0a2.6,2.6 0 1,0 5.2,0M568.87,238.71a2.6,2.6 0 1,0 -5.2,0a2.6,2.6 0 1,0 5.2,0M562.46,238.62a2.6,2.6 0 1,0 -5.2,0a2.6,2.6 0 1,0 5.2,0M556.20,238.53a2.6,2.6 0 1,0 -5.2,0a2.6,2.6 0 1,0 5.2,0M550.09,238.44a2.6,2.6 0 1,0 -5.2,0a2.6,2.6 0 1,0 5.2,0M544.12,238.36a2.6,2.6 0 1,0 -5.2,0a2.6,2.6 0 1,0 5.2,0M538.28,238.28a2.6,2.6 0 1,0 -5.2,0a2.6,2.6 0 1,0 5.2,0M532.58,238.21a2.6,2.6 0 1,0 -5.2,0a2.6,2.6 0 1,0 5.2,0M527.00,238.15a2.6,2.6 0 1,0 -5.2,0a2.6,2.6 0 1,0 5.2,0M521.56,238.09a2.6,2.6 0 1,0 -5.2,0a2.6,2.6 0 1,0 5.2,0M516.24,238.05a2.6,2.6 0 1,0 -5.2,0a2.6,2.6 0 1,0 5.2,0M511.04,238.02a2.6,2.6 0 1,0 -5.2,0a2.6,2.6 0 1,0 5.2,0M505.97,237.99a2.6,2.6 0 1,0 -5.2,0a2.6,2.6 0 1,0 5.2,0M501.01,237.98a2.6,2.6 0 1,0 -5.2,0a2.6,2.6 0 1,0 5.2,0M496.16,237.97a2.6,2.6 0 1,0 -5.2,0a2.6,2.6 0 1,0 5.2,0M491.42,237.96a2.6,2.6 0 1,0 -5.2,0a2.6,2.6 0 1,0 5.2,0M486.80,237.95a2.6,2.6 0 1,0 -5.2,0a2.6,2.6 0 1,0 5.2,0M482.27,237.94a2.6,2.6 0 1,0 -5.2,0a2.6,2.6 0 1,0 5.2,0M477.86,237.93a2.6,2.6 0 1,0 -5.2,0a2.6,2.6 0 1,0 5.2,0M473.54,237.91a2.6,2.6 0 1,0 -5.2,0a2.6,2.6 0 1,0 5.2,0M469.33,237.89a2.6,2.6 0 1,0 -5.2,0a2.6,2.6 0 1,0 5.2,0M465.21,237.86a2.6,2.6 0 1,0 -5.2,0a2.6,2.6 0 1,0 5.2,0M461.18,237.83a2.6,2.6 0 1,0 -5.2,0a2.6,2.6 0 1,0 5.2,0M457.25,237.78a2.6,2.6 0 1,0 -5.2,0a2.6,2.6 0 1,0 5.2,0M453.41,237.73a2.6,2.6 0 1,0 -5.2,0a2.6,2.6 0 1,0 5.2,0M449.65,237.66a2.6,2.6 0 1,0 -5.2,0a2.6,2.6 0 1,0 5.2,0M445.98,237.58a2.6,2.6 0 1,0 -5.2,0a2.6,2.6 0 1,0 5.2,0M442.40,237.49a2.6,2.6 0 1,0 -5.2,0a2.6,2.6 0 1,0 5.2,0M438.90,237.39a2.6,2.6 0 1,0 -5.2,0a2.6,2.6 0 1,0 5.2,0M435.48,237.27a2.6,2.6 0 1,0 -5.2,0a2.6,2.6 0 1,0 5.2,0M432.13,237.15a2.6,2.6 0 1,0 -5.2,0a2.6,2.6 0 1,0 5.2,0M428.87,237.02a2.6,2.6 0 1,0 -5.2,0a2.6,2.6 0 1,0 5.2,0M425.68,236.88a2.6,2.6 0 1,0 -5.2,0a2.6,2.6 0 1,0 5.2,0M422.56,236.74a2.6,2.6 0 1,0 -5.2,0a2.6,2.6 0 1,0 5.2,0M419.51,236.58a2.6,2.6 0 1,0 -5.2,0a2.6,2.6 0 1,0 5.2,0M416.54,236.42a2.6,2.6 0 1,0 -5.2,0a2.6,2.6 0 1,0 5.2,0M413.63,236.25a2.6,2.6 0 1,0 -5.2,0a2.6,2.6 0 1,0 5.2,0M410.79,236.07a2.6,2.6 0 1,0 -5.2,0a2.6,2.6 0 1,0 5.2,0M408.01,235.89a2.6,2.6 0 1,0 -5.2,0a2.6,2.6 0 1,0 5.2,0M405.30,235.70a2.6,2.6 0 1,0 -5.2,0a2.6,2.6 0 1,0 5.2,0M402.65,235.50a2.6,2.6 0 1,0 -5.2,0a2.6,2.6 0 1,0 5.2,0M400.06,235.30a2.6,2.6 0 1,0 -5.2,0a2.6,2.6 0 1,0 5.2,0M397.53,235.10a2.6,2.6 0 1,0 -5.2,0a2.6,2.6 0 1,0 5.2,0M395.06,234.89a2.6,2.6 0 1,0 -5.2,0a2.6,2.6 0 1,0 5.2,0M392.65,234.67a2.6,2.6 0 1,0 -5.2,0a2.6,2.6 0 1,0 5.2,0M390.29,234.45a2.6,2.6 0 1,0 -5.2,0a2.6,2.6 0 1,0 5.2,0M387.98,234.22a2.6,2.6 0 1,0 -5.2,0a2.6,2.6 0 1,0 5.2,0M385.73,233.99a2.6,2.6 0 1,0 -5.2,0a2.6,2.6 0 1,0 5.2,0M383.53,233.76a2.6,2.6 0 1,0 -5.2,0a2.6,2.6 0 1,0 5.2,0M381.38,233.53a2.6,2.6 0 1,0 -5.2,0a2.6,2.6 0 1,0 5.2,0M379.28,233.30a2.6,2.6 0 1,0 -5.2,0a2.6,2.6 0 1,0 5.2,0M377.23,233.06a2.6,2.6 0 1,0 -5.2,0a2.6,2.6 0 1,0 5.2,0M375.22,232.82a2.6,2.6 0 1,0 -5.2,0a2.6,2.6 0 1,0 5.2,0M373.27,232.58a2.6,2.6 0 1,0 -5.2,0a2.6,2.6 0 1,0 5.2,0M371.35,232.34a2.6,2.6 0 1,0 -5.2,0a2.6,2.6 0 1,0 5.2,0M369.48,232.10a2.6,2.6 0 1,0 -5.2,0a2.6,2.6 0 1,0 5.2,0M367.65,231.86a2.6,2.6 0 1,0 -5.2,0a2.6,2.6 0 1,0 5.2,0M365.87,231.62a2.6,2.6 0 1,0 -5.2,0a2.6,2.6 0 1,0 5.2,0M364.12,231.38a2.6,2.6 0 1,0 -5.2,0a2.6,2.6 0 1,0 5.2,0M362.42,231.14a2.6,2.6 0 1,0 -5.2,0a2.6,2.6 0 1,0 5.2,0M360.75,230.89a2.6,2.6 0 1,0 -5.2,0a2.6,2.6 0 1,0 5.2,0M359.13,230.63a2.6,2.6 0 1,0 -5.2,0a2.6,2.6 0 1,0 5.2,0M357.54,230.38a2.6,2.6 0 1,0 -5.2,0a2.6,2.6 0 1,0 5.2,0M355.99,230.11a2.6,2.6 0 1,0 -5.2,0a2.6,2.6 0 1,0 5.2,0M354.47,229.85a2.6,2.6 0 1,0 -5.2,0a2.6,2.6 0 1,0 5.2,0M352.99,229.57a2.6,2.6 0 1,0 -5.2,0a2.6,2.6 0 1,0 5.2,0M351.54,229.30a2.6,2.6 0 1,0 -5.2,0a2.6,2.6 0 1,0 5.2,0M350.12,229.02a2.6,2.6 0 1,0 -5.2,0a2.6,2.6 0 1,0 5.2,0M348.74,228.74a2.6,2.6 0 1,0 -5.2,0a2.6,2.6 0 1,0 5.2,0" fill="none" stroke="#ff0000" stroke-width="0.8"/>
<path d="M283.80,45.50L287.20,40.90L290.60,45.50L287.20,50.10ZM283.80,46.50L287.20,41.90L290.60,46.50L287.20,51.10ZM283.80,48.00L287.20,43.40L290.60,48.00L287.20,52.60ZM283.81,49.00L287.21,44.40L290.61,49.00L287.21,53.60ZM283.81,50.00L287.21,45.40L290.61,50.00L287.21,54.60ZM283.81,51.50L287.21,46.90L290.61,51.50L287.21,56.10ZM283.81,53.00L287.21,48.40L290.61,53.00L287.21,57.60ZM283.81,54.50L287.21,49.90L290.61,54.50L287.21,59.10ZM283.81,56.00L287.21,51.40L290.61,56.00L287.21,60.60ZM283.82,57.50L287.22,52.90L290.62,57.50L287.22,62.10ZM283.82,59.00L287.22,54.40L290.62,59.00L287.22,63.60ZM283.86,89.50L287.26,84.90L290.66,89.50L287.26,94.10ZM283.86,91.00L287.26,86.40L290.66,91.00L287.26,95.60ZM283.86,92.00L287.26,87.40L290.66,92.00L287.26,96.60ZM283.86,93.00L287.26,88.40L290.66,93.00L287.26,97.60ZM283.86,94.50L287.26,89.90L290.66,94.50L287.26,99.10ZM283.86,95.50L287.26,90.90L290.66,95.50L287.26,100.10ZM283.87,97.00L287.27,92.40L290.67,97.00L287.27,101.60ZM283.87,98.50L287.27,93.90L290.67,98.50L287.27,103.10ZM283.87,99.50L287.27,94.90L290.67,99.50L287.27,104.10ZM283.87,100.50L287.27,95.90L290.67,100.50L287.27,105.10ZM283.87,102.00L287.27,97.40L290.67,102.00L287.27,106.60ZM283.87,103.50L287.27,98.90L290.67,103.50L287.27,108.10ZM283.88,104.50L287.28,99.90L290.68,104.50L287.28,109.10ZM283.88,105.50L287.28,100.90L290.68,105.50L287.28,110.10ZM283.88,106.50L287.28,101.90L290.68,106.50L287.28,111.10ZM283.88,107.50L287.28,102.90L290.68,107.50L287.28,112.10ZM283.88,109.00L287.28,104.40L290.68,109.00L287.28,113.60ZM283.89,110.50L287.29,105.90L290.69,110.50L287.29,115.10ZM283.89,111.50L287.29,106.90L290.69,111.50L287.29,116.10ZM283.89,112.50L287.29,107.90L290.69,112.50L287.29,117.10ZM283.89,113.50L287.29,108.90L290.69,113.50L287.29,118.10ZM283.89,115.00L287.29,110.40L290.69,115.00L287.29,119.60ZM283.89,116.00L287.29,111.40L290.69,116.00L287.29,120.60ZM283.90,117.00L287.30,112.40L290.70,117.00L287.30,121.60ZM283.90,118.50L287.30,113.90L290.70,118.50L287.30,123.10ZM283.90,120.00L287.30,115.40L290.70,120.00L287.30,124.60ZM283.90,121.50L287.30,116.90L290.70,121.50L287.30,126.10ZM283.90,122.50L287.30,117.90L290.70,122.50L287.30,127.10ZM283.90,123.50L287.30,118.90L290.70,123.50L287.30,128.10ZM283.91,125.00L287.31,120.40L290.71,125.00L287.31,129.60ZM283.91,126.00L287.31,121.40L290.71,126.00L287.31,130.60ZM283.91,127.50L287.31,122.90L290.71,127.50L287.31,132.10ZM283.91,128.50L287.31,123.90L290.71,128.50L287.31,133.10ZM283.91,130.00L287.31,125.40L290.71,130.00L287.31,134.60ZM283.90,131.00L287.30,126.40L290.70,131.00L287.30,135.60ZM283.90,132.50L287.30,127.90L290.70,132.50L287.30,137.10ZM283.90,134.00L287.30,129.40L290.70,134.00L287.30,138.60ZM283.90,135.50L287.30,130.90L290.70,135.50L287.30,140.10ZM283.90,137.00L287.30,132.40L290.70,137.00L287.30,141.60ZM283.90,138.50L287.30,133.90L290.70,138.50L287.30,143.10ZM283.90,140.00L287.30,135.40L290.70,140.00L287.30,144.60ZM283.90,141.50L287.30,136.90L290.70,141.50L287.30,146.10ZM283.90,143.00L287.30,138.40L290.70,143.00L287.30,147.60ZM283.90,144.00L287.30,139.40L290.70,144.00L287.30,148.60ZM283.89,145.00L287.29,140.40L290.69,145.00L287.29,149.60ZM283.89,146.50L287.29,141.90L290.69,146.50L287.29,151.10ZM283.89,148.00L287.29,143.40L290.69,148.00L287.29,152.60ZM283.89,149.50L287.29,144.90L290.69,149.50L287.29,154.10ZM283.90,151.00L287.30,146.40L290.70,151.00L287.30,155.60ZM283.90,152.00L287.30,147.40L290.70,152.00L287.30,156.60ZM283.90,153.50L287.30,148.90L290.70,153.50L287.30,158.10ZM283.90,154.50L287.30,149.90L290.70,154.50L287.30,159.10ZM283.90,156.00L287.30,151.40L290.70,156.00L287.30,160.60ZM283.91,157.00L287.31,152.40L290.71,157.00L287.31,161.60ZM283.91,158.00L287.31,153.40L290.71,158.00L287.31,162.60ZM283.92,159.50L287.32,154.90L290.72,159.50L287.32,164.10ZM283.92,161.00L287.32,156.40L290.72,161.00L287.32,165.60ZM283.93,162.50L287.33,157.90L290.73,162.50L287.33,167.10ZM283.94,164.00L287.34,159.40L290.74,164.00L287.34,168.60ZM283.95,165.00L287.35,160.40L290.75,165.00L287.35,169.60ZM283.96,166.50L287.36,161.90L290.76,166.50L287.36,171.10ZM283.97,167.50L287.37,162.90L290.77,167.50L287.37,172.10ZM283.99,169.00L287.39,164.40L290.79,169.00L287.39,173.60ZM284.01,170.50L287.41,165.90L290.81,170.50L287.41,175.10ZM284.02,171.50L287.42,166.90L290.82,171.50L287.42,176.10ZM284.03,173.00L287.43,168.40L290.83,173.00L287.43,177.60ZM284.04,174.50L287.44,169.90L290.84,174.50L287.44,179.10ZM284.04,176.00L287.44,171.40L290.84,176.00L287.44,180.60ZM284.05,177.50L287.45,172.90L290.85,177.50L287.45,182.10ZM284.06,179.00L287.46,174.40L290.86,179.00L287.46,183.60ZM284.06,180.50L287.46,175.90L290.86,180.50L287.46,185.10ZM284.07,182.00L287.47,177.40L290.87,182.00L287.47,186.60ZM284.08,183.00L287.48,178.40L290.88,183.00L287.48,187.60ZM284.10,184.50L287.50,179.90L290.90,184.50L287.50,189.10ZM284.12,186.00L287.52,181.40L290.92,186.00L287.52,190.60ZM284.16,187.50L287.56,182.90L290.96,187.50L287.56,192.10ZM284.21,189.00L287.61,184.40L291.01,189.00L287.61,193.60ZM284.27,190.50L287.67,185.90L291.07,190.50L287.67,195.10ZM284.36,191.99L287.76,187.39L291.16,191.99L287.76,196.59ZM284.42,192.99L287.82,188.39L291.22,192.99L287.82,197.59ZM284.55,194.49L287.95,189.89L291.35,194.49L287.95,199.09ZM284.71,195.98L288.11,191.38L291.51,195.98L288.11,200.58ZM284.90,197.46L288.30,192.86L291.70,197.46L288.30,202.06ZM285.14,198.95L288.54,194.35L291.94,198.95L288.54,203.55ZM285.39,200.42L288.79,195.82L292.19,200.42L288.79,205.02ZM285.68,201.90L289.08,197.30L292.48,201.90L289.08,206.50ZM285.99,203.36L289.39,198.76L292.79,203.36L289.39,207.96ZM286.31,204.83L289.71,200.23L293.11,204.83L289.71,209.43ZM286.64,206.29L290.04,201.69L293.44,206.29L290.04,210.89ZM286.97,207.76L290.37,203.16L293.77,207.76L290.37,212.36ZM287.30,209.22L290.70,204.62L294.10,209.22L290.70,213.82ZM287.64,210.68L291.04,206.08L294.44,210.68L291.04,215.28ZM288.03,212.13L291.43,207.53L294.83,212.13L291.43,216.73ZM288.46,213.57L291.86,208.97L295.26,213.57L291.86,218.17ZM288.94,214.99L292.34,210.39L295.74,214.99L292.34,219.59ZM289.46,216.39L292.86,211.79L296.26,216.39L292.86,220.99ZM290.03,217.78L293.43,213.18L296.83,217.78L293.43,222.38ZM290.66,219.14L294.06,214.54L297.46,219.14L294.06,223.74ZM291.35,220.47L294.75,215.87L298.15,220.47L294.75,225.07ZM292.06,221.80L295.46,217.20L298.86,221.80L295.46,226.40ZM292.85,223.07L296.25,218.47L299.65,223.07L296.25,227.67ZM293.81,224.22L297.21,219.62L300.61,224.22L297.21,228.82ZM294.96,225.18L298.36,220.58L301.76,225.18L298.36,229.78ZM296.24,225.96L299.64,221.36L303.04,225.96L299.64,230.56ZM297.59,226.61L300.99,222.01L304.39,226.61L300.99,231.21ZM298.99,227.17L302.39,222.57L305.79,227.17L302.39,231.77ZM300.40,227.67L303.80,223.07L307.20,227.67L303.80,232.27ZM301.84,228.07L305.24,223.47L308.64,228.07L305.24,232.67ZM303.31,228.40L306.71,223.80L310.11,228.40L306.71,233.00ZM304.78,228.67L308.18,224.07L311.58,228.67L308.18,233.27ZM306.26,228.92L309.66,224.32L313.06,228.92L309.66,233.52ZM307.74,229.17L311.14,224.57L314.54,229.17L311.14,233.77ZM309.22,229.43L312.62,224.83L316.02,229.43L312.62,234.03ZM310.69,229.71L314.09,225.11L317.49,229.71L314.09,234.31ZM312.16,229.99L315.56,225.39L318.96,229.99L315.56,234.59ZM313.64,230.27L317.04,225.67L320.44,230.27L317.04,234.87ZM315.11,230.55L318.51,225.95L321.91,230.55L318.51,235.15ZM316.59,230.83L319.99,226.23L323.39,230.83L319.99,235.43ZM318.10,231.11L321.46,226.55L324.83,231.11L321.46,235.66ZM319.10,231.29L322.44,226.77L325.78,231.29L322.44,235.81ZM320.61,231.55L323.92,227.08L327.23,231.55L323.92,236.03ZM322.13,231.81L325.40,227.39L328.67,231.81L325.40,236.24ZM323.64,232.07L326.88,227.69L330.11,232.07L326.88,236.45ZM324.65,232.23L327.86,227.88L331.07,232.23L327.86,236.58ZM326.17,232.47L329.34,228.17L332.52,232.47L329.34,236.77ZM327.69,232.69L330.83,228.44L333.97,232.69L330.83,236.95ZM329.21,232.90L332.31,228.70L335.42,232.90L332.31,237.11ZM330.73,233.10L333.80,228.94L336.87,233.10L333.80,237.26ZM332.25,233.29L335.29,229.18L338.32,233.29L335.29,237.40ZM333.78,233.46L336.78,229.40L339.77,233.46L336.78,237.53ZM335.31,233.63L338.27,229.61L341.23,233.63L338.27,237.64ZM336.83,233.78L339.76,229.81L342.69,233.78L339.76,237.74ZM338.36,233.91L341.25,229.99L344.14,233.91L341.25,237.83ZM339.38,233.99L342.25,230.11L345.12,233.99L342.25,237.88ZM340.92,234.11L343.75,230.27L346.58,234.11L343.75,237.95Z" fill="#0000ff"/>
<path d="M341.20,234.13L344.00,230.33L346.80,234.13L344.00,237.93ZM342.20,234.20L345.00,230.40L347.80,234.20L345.00,238.00ZM343.20,234.26L346.00,230.46L348.80,234.26L346.00,238.06ZM344.20,234.33L347.00,230.53L349.80,234.33L347.00,238.13ZM345.20,234.39L348.00,230.59L350.80,234.39L348.00,238.19ZM346.20,234.44L349.00,230.64L351.80,234.44L349.00,238.24ZM347.20,234.50L350.00,230.70L352.80,234.50L350.00,238.30ZM348.20,234.55L351.00,230.75L353.80,234.55L351.00,238.35ZM349.20,234.60L352.00,230.80L354.80,234.60L352.00,238.40ZM350.20,234.64L353.00,230.84L355.80,234.64L353.00,238.44ZM351.20,234.68L354.00,230.88L356.80,234.68L354.00,238.48ZM352.20,234.71L355.00,230.91L357.80,234.71L355.00,238.51ZM353.20,234.75L356.00,230.95L358.80,234.75L356.00,238.55ZM354.20,234.78L357.00,230.98L359.80,234.78L357.00,238.58ZM355.20,234.81L358.00,231.01L360.80,234.81L358.00,238.61ZM356.20,234.83L359.00,231.03L361.80,234.83L359.00,238.63ZM357.20,234.86L360.00,231.06L362.80,234.86L360.00,238.66ZM358.20,234.88L361.00,231.08L363.80,234.88L361.00,238.68ZM359.20,234.90L362.00,231.10L364.80,234.90L362.00,238.70ZM360.20,234.92L363.00,231.12L365.80,234.92L363.00,238.72ZM361.20,234.94L364.00,231.14L366.80,234.94L364.00,238.74ZM362.20,234.96L365.00,231.16L367.80,234.96L365.00,238.76ZM363.20,234.97L366.00,231.17L368.80,234.97L366.00,238.77ZM364.20,234.99L367.00,231.19L369.80,234.99L367.00,238.79ZM365.20,235.00L368.00,231.20L370.80,235.00L368.00,238.80ZM366.20,235.02L369.00,231.22L371.80,235.02L369.00,238.82ZM367.20,235.03L370.00,231.23L372.80,235.03L370.00,238.83ZM368.20,235.04L371.00,231.24L373.80,235.04L371.00,238.84ZM369.20,235.06L372.00,231.26L374.80,235.06L372.00,238.86ZM370.20,235.07L373.00,231.27L375.80,235.07L373.00,238.87ZM371.20,235.08L374.00,231.28L376.80,235.08L374.00,238.88ZM372.20,235.09L375.00,231.29L377.80,235.09L375.00,238.89ZM373.20,235.10L376.00,231.30L378.80,235.10L376.00,238.90ZM374.20,235.12L377.00,231.32L379.80,235.12L377.00,238.92ZM375.20,235.13L378.00,231.33L380.80,235.13L378.00,238.93ZM376.20,235.14L379.00,231.34L381.80,235.14L379.00,238.94ZM377.20,235.15L380.00,231.35L382.80,235.15L380.00,238.95ZM378.20,235.16L381.00,231.36L383.80,235.16L381.00,238.96ZM379.20,235.18L382.00,231.38L384.80,235.18L382.00,238.98ZM380.20,235.19L383.00,231.39L385.80,235.19L383.00,238.99ZM381.20,235.20L384.00,231.40L386.80,235.20L384.00,239.00ZM382.20,235.22L385.00,231.42L387.80,235.22L385.00,239.02ZM383.20,235.23L386.00,231.43L388.80,235.23L386.00,239.03ZM384.20,235.25L387.00,231.45L389.80,235.25L387.00,239.05ZM385.20,235.27L388.00,231.47L390.80,235.27L388.00,239.07ZM386.20,235.28L389.00,231.48L391.80,235.28L389.00,239.08Z" fill="#0000ff" opacity="0.35"/>
<path d="M287.20,45.00 L287.20,45.50 L287.20,46.00 L287.20,46.50 L287.20,47.00 L287.20,47.50 L287.20,48.00 L287.20,48.50 L287.21,49.00 L287.21,49.50 L287.21,50.00 L287.21,50.50 L287.21,51.00 L287.21,51.50 L287.21,52.00 L287.21,52.50 L287.21,53.00 L287.21,53.50 L287.21,54.00 L287.21,54.50 L287.21,55.00 L287.21,55.50 L287.21,56.00 L287.21,56.50 L287.22,57.00 L287.22,57.50 L287.22,58.00 L287.22,58.50 L287.22,59.00 L287.22,59.50 L287.22,60.00 L287.22,60.50 L287.22,61.00 L287.22,61.50 L287.22,62.00 L287.22,62.50 L287.22,63.00 L287.22,63.50 L287.22,64.00 L287.22,64.50 L287.23,65.00 L287.23,65.50 L287.23,66.00 L287.23,66.50 L287.23,67.00 L287.23,67.50 L287.23,68.00 L287.23,68.50 L287.23,69.00 L287.23,69.50 L287.23,70.00 L287.23,70.50 L287.23,71.00 L287.23,71.50 L287.23,72.00 L287.23,72.50 L287.24,73.00 L287.24,73.50 L287.24,74.00 L287.24,74.50 L287.24,75.00 L287.24,75.50 L287.24,76.00 L287.24,76.50 L287.24,77.00 L287.24,77.50 L287.24,78.00 L287.24,78.50 L287.24,79.00 L287.24,79.50 L287.24,80.00 L287.24,80.50 L287.25,81.00 L287.25,81.50 L287.25,82.00 L287.25,82.50 L287.25,83.00 L287.25,83.50 L287.25,84.00 L287.25,84.50 L287.25,85.00 L287.25,85.50 L287.25,86.00 L287.25,86.50 L287.25,87.00 L287.25,87.50 L287.25,88.00 L287.25,88.50 L287.26,89.00 L287.26,89.50 L287.26,90.00 L287.26,90.50 L287.26,91.00 L287.26,91.50 L287.26,92.00 L287.26,92.50 L287.26,93.00 L287.26,93.50 L287.26,94.00 L287.26,94.50 L287.26,95.00 L287.26,95.50 L287.26,96.00 L287.27,96.50 L287.27,97.00 L287.27,97.50 L287.27,98.00 L287.27,98.50 L287.27,99.00 L287.27,99.50 L287.27,100.00 L287.27,100.50 L287.27,101.00 L287.27,101.50 L287.27,102.00 L287.27,102.50 L287.27,103.00 L287.27,103.50 L287.28,104.00 L287.28,104.50 L287.28,105.00 L287.28,105.50 L287.28,106.00 L287.28,106.50 L287.28,107.00 L287.28,107.50 L287.28,108.00 L287.28,108.50 L287.28,109.00 L287.28,109.50 L287.28,110.00 L287.29,110.50 L287.29,111.00 L287.29,111.50 L287.29,112.00 L287.29,112.50 L287.29,113.00 L287.29,113.50 L287.29,114.00 L287.29,114.50 L287.29,115.00 L287.29,115.50 L287.29,116.00 L287.29,116.50 L287.30,117.00 L287.30,117.50 L287.30,118.00 L287.30,118.50 L287.30,119.00 L287.30,119.50 L287.30,120.00 L287.30,120.50 L287.30,121.00 L287.30,121.50 L287.30,122.00 L287.30,122.50 L287.30,123.00 L287.30,123.50 L287.30,124.00 L287.30,124.50 L287.31,125.00 L287.31,125.50 L287.31,126.00 L287.31,126.50 L287.31,127.00 L287.31,127.50 L287.31,128.00 L287.31,128.50 L287.31,129.00 L287.31,129.50 L287.31,130.00 L287.30,130.50 L287.30,131.00 L287.30,131.50 L287.30,132.00 L287.30,132.50 L287.30,133.00 L287.30,133.50 L287.30,134.00 L287.30,134.50 L287.30,135.00 L287.30,135.50 L287.30,136.00 L287.30,136.50 L287.30,137.00 L287.30,137.50 L287.30,138.00 L287.30,138.50 L287.30,139.00 L287.30,139.50 L287.30,140.00 L287.30,140.50 L287.30,141.00 L287.30,141.50 L287.30,142.00 L287.30,142.50 L287.30,143.00 L287.30,143.50 L287.30,144.00 L287.30,144.50 L287.29,145.00 L287.29,145.50 L287.29,146.00 L287.29,146.50 L287.29,147.00 L287.29,147.50 L287.29,148.00 L287.29,148.50 L287.29,149.00 L287.29,149.50 L287.30,150.00 L287.30,150.50 L287.30,151.00 L287.30,151.50 L287.30,152.00 L287.30,152.50 L287.30,153.00 L287.30,153.50 L287.30,154.00 L287.30,154.50 L287.30,155.00 L287.30,155.50 L287.30,156.00 L287.31,156.50 L287.31,157.00 L287.31,157.50 L287.31,158.00 L287.31,158.50 L287.31,159.00 L287.32,159.50 L287.32,160.00 L287.32,160.50 L287.32,161.00 L287.33,161.50 L287.33,162.00 L287.33,162.50 L287.33,163.00 L287.34,163.50 L287.34,164.00 L287.35,164.50 L287.35,165.00 L287.35,165.50 L287.36,166.00 L287.36,166.50 L287.37,167.00 L287.37,167.50 L287.38,168.00 L287.38,168.50 L287.39,169.00 L287.39,169.50 L287.40,170.00 L287.41,170.50 L287.41,171.00 L287.42,171.50 L287.42,172.00 L287.43,172.50 L287.43,173.00 L287.43,173.50 L287.44,174.00 L287.44,174.50 L287.44,175.00 L287.44,175.50 L287.44,176.00 L287.45,176.50 L287.45,177.00 L287.45,177.50 L287.45,178.00 L287.45,178.50 L287.46,179.00 L287.46,179.50 L287.46,180.00 L287.46,180.50 L287.46,181.00 L287.47,181.50 L287.47,182.00 L287.48,182.50 L287.48,183.00 L287.48,183.50 L287.49,184.00 L287.50,184.50 L287.51,185.00 L287.51,185.50 L287.52,186.00 L287.53,186.50 L287.55,187.00 L287.56,187.50 L287.57,188.00 L287.59,188.50 L287.61,189.00 L287.63,189.50 L287.65,190.00 L287.67,190.50 L287.70,191.00 L287.72,191.49 L287.76,191.99 L287.79,192.49 L287.82,192.99 L287.86,193.49 L287.91,193.99 L287.95,194.49 L288.00,194.98 L288.05,195.48 L288.11,195.98 L288.17,196.47 L288.24,196.97 L288.30,197.46 L288.38,197.96 L288.45,198.45 L288.54,198.95 L288.62,199.44 L288.71,199.93 L288.79,200.42 L288.89,200.92 L288.98,201.41 L289.08,201.90 L289.18,202.39 L289.29,202.88 L289.39,203.36 L289.50,203.85 L289.61,204.34 L289.71,204.83 L289.82,205.32 L289.93,205.80 L290.04,206.29 L290.15,206.78 L290.26,207.27 L290.37,207.76 L290.48,208.25 L290.59,208.73 L290.70,209.22 L290.81,209.71 L290.93,210.19 L291.04,210.68 L291.17,211.16 L291.30,211.65 L291.43,212.13 L291.57,212.61 L291.71,213.09 L291.86,213.57 L292.01,214.04 L292.18,214.52 L292.34,214.99 L292.51,215.46 L292.68,215.93 L292.86,216.39 L293.05,216.86 L293.24,217.32 L293.43,217.78 L293.64,218.24 L293.85,218.69 L294.06,219.14 L294.29,219.59 L294.52,220.03 L294.75,220.47 L294.98,220.92 L295.22,221.36 L295.46,221.80 L295.71,222.23 L295.97,222.65 L296.25,223.07 L296.55,223.47 L296.87,223.86 L297.21,224.22 L297.57,224.56 L297.96,224.88 L298.36,225.18 L298.78,225.46 L299.20,225.72 L299.64,225.96 L300.09,226.19 L300.54,226.40 L300.99,226.61 L301.45,226.80 L301.92,226.99 L302.39,227.17 L302.85,227.34 L303.33,227.51 L303.80,227.67 L304.28,227.81 L304.76,227.95 L305.24,228.07 L305.73,228.19 L306.22,228.30 L306.71,228.40 L307.20,228.49 L307.69,228.58 L308.18,228.67 L308.68,228.75 L309.17,228.84 L309.66,228.92 L310.15,229.00 L310.65,229.08 L311.14,229.17 L311.63,229.25 L312.13,229.34 L312.62,229.43 L313.11,229.52 L313.60,229.61 L314.09,229.71 L314.58,229.80 L315.07,229.90 L315.56,229.99 L316.06,230.09 L316.55,230.18 L317.04,230.27 L317.53,230.37 L318.02,230.46 L318.51,230.55 L319.00,230.65 L319.49,230.74 L319.99,230.83 L320.48,230.92 L320.97,231.02 L321.46,231.11 L321.95,231.20 L322.44,231.29 L322.94,231.38 L323.43,231.47 L323.92,231.55 L324.41,231.64 L324.90,231.73 L325.40,231.81 L325.89,231.90 L326.38,231.98 L326.88,232.07 L327.37,232.15 L327.86,232.23 L328.36,232.31 L328.85,232.39 L329.34,232.47 L329.84,232.55 L330.33,232.62 L330.83,232.69 L331.32,232.77 L331.82,232.84 L332.31,232.90 L332.81,232.97 L333.30,233.04 L333.80,233.10 L334.29,233.17 L334.79,233.23 L335.29,233.29 L335.78,233.35 L336.28,233.41 L336.78,233.46 L337.27,233.52 L337.77,233.57 L338.27,233.63 L338.76,233.68 L339.26,233.73 L339.76,233.78 L340.26,233.82 L340.76,233.87 L341.25,233.91 L341.75,233.95 L342.25,233.99 L342.75,234.03 L343.25,234.07 L343.75,234.11 L344.24,234.15 L344.74,234.18 L345.24,234.22 L345.74,234.25 L346.24,234.28 L346.74,234.31 L347.24,234.34 L347.74,234.37 L348.24,234.40 L348.74,234.43 L349.23,234.46 L349.73,234.49 L350.23,234.51 L350.73,234.53 L351.23,234.56 L351.73,234.58 L352.23,234.61 L352.73,234.63 L353.23,234.65 L353.73,234.67 L354.23,234.69 L354.73,234.70 L355.23,234.72 L355.73,234.74 L356.23,234.76 L356.73,234.77 L357.23,234.78 L357.73,234.80 L358.23,234.81 L358.73,234.83 L359.23,234.84 L359.73,234.85 L360.23,234.86 L360.73,234.87 L361.23,234.88 L361.73,234.90 L362.23,234.91 L362.73,234.92 L363.23,234.92 L363.73,234.93 L364.23,234.94 L364.73,234.95 L365.23,234.96 L365.73,234.97 L366.23,234.98 L366.73,234.98 L367.23,234.99 L367.73,235.00 L368.23,235.01 L368.73,235.01 L369.23,235.02 L369.73,235.03 L370.23,235.03 L370.73,235.04 L371.23,235.05 L371.73,235.05 L372.23,235.06 L372.72,235.06 L373.22,235.07 L373.72,235.08 L374.22,235.08 L374.72,235.09 L375.22,235.09 L375.72,235.10 L376.22,235.11 L376.72,235.11 L377.22,235.12 L377.72,235.12 L378.22,235.13 L378.72,235.14 L379.22,235.14 L379.72,235.15 L380.22,235.15 L380.72,235.16 L381.22,235.17 L381.72,235.17 L382.22,235.18 L382.72,235.19 L383.22,235.19 L383.72,235.20 L384.22,235.21 L384.72,235.21 L385.22,235.22 L385.72,235.23 L386.22,235.24 L386.72,235.24 L387.22,235.25 L387.72,235.26 L388.22,235.27 L388.72,235.28 L389.22,235.29 L389.72,235.30 L390.22,235.30 L390.72,235.31 L391.22,235.32 L391.72,235.33 L392.22,235.34 L392.72,235.35 L393.22,235.36 L393.72,235.37 L394.22,235.38 L394.72,235.40 L395.22,235.41 L395.72,235.42 L396.22,235.43 L396.72,235.44 L397.22,235.45 L397.72,235.46 L398.22,235.47 L398.72,235.48 L399.22,235.49 L399.72,235.50 L400.22,235.52 L400.72,235.53 L401.22,235.54 L401.72,235.55 L402.22,235.56 L402.72,235.57 L403.22,235.58 L403.72,235.59 L404.22,235.61 L404.72,235.62 L405.22,235.63 L405.72,235.64 L406.22,235.65 L406.72,235.66 L407.22,235.67 L407.72,235.69 L408.22,235.70 L408.72,235.71 L409.22,235.72 L409.72,235.73 L410.22,235.74 L410.72,235.75 L411.22,235.76 L411.72,235.77 L412.22,235.78 L412.72,235.80 L413.22,235.81 L413.72,235.82 L414.22,235.83 L414.72,235.84 L415.22,235.85 L415.72,235.86 L416.22,235.87 L416.72,235.88 L417.22,235.89 L417.72,235.90 L418.22,235.91 L418.72,235.92 L419.22,235.92 L419.72,235.93 L420.22,235.94 L420.72,235.95 L421.22,235.96 L421.72,235.97 L422.22,235.98 L422.72,235.99 L423.22,236.00 L423.72,236.00 L424.22,236.01 L424.72,236.02 L425.22,236.03 L425.72,236.04 L426.22,236.04 L426.72,236.05 L427.22,236.06 L427.72,236.06 L428.22,236.07 L428.72,236.08 L429.22,236.09 L429.72,236.09 L430.22,236.10 L430.72,236.11 L431.22,236.11 L431.72,236.12 L432.22,236.12 L432.72,236.13 L433.22,236.13 L433.72,236.14 L434.21,236.15 L434.71,236.15 L435.21,236.16 L435.71,236.16 L436.21,236.17 L436.71,236.17 L437.21,236.18 L437.71,236.18 L438.21,236.18 L438.71,236.19 L439.21,236.19 L439.71,236.20 L440.21,236.20 L440.71,236.20 L441.21,236.21 L441.71,236.21 L442.21,236.21 L442.71,236.21 L443.21,236.22 L443.71,236.22 L444.21,236.22 L444.71,236.23 L445.21,236.23 L445.71,236.23 L446.21,236.23 L446.71,236.24 L447.21,236.24 L447.71,236.24 L448.21,236.25 L448.71,236.25 L449.21,236.25 L449.71,236.25 L450.21,236.25 L450.71,236.26 L451.21,236.26 L451.71,236.26 L452.21,236.26 L452.71,236.26 L453.21,236.26 L453.71,236.26 L454.21,236.26 L454.71,236.26 L455.21,236.26 L455.71,236.27 L456.21,236.27 L456.71,236.27 L457.21,236.27 L457.71,236.27 L458.21,236.27 L458.71,236.27 L459.21,236.27 L459.71,236.27 L460.21,236.27 L460.71,236.27 L461.21,236.27 L461.71,236.27 L462.21,236.27 L462.71,236.27 L463.21,236.27 L463.71,236.27 L464.21,236.27 L464.71,236.27 L465.21,236.27 L465.71,236.27 L466.21,236.27 L466.71,236.27 L467.21,236.27 L467.71,236.27 L468.21,236.27 L468.71,236.27 L469.21,236.27 L469.71,236.27 L470.21,236.27 L470.71,236.27 L471.21,236.27 L471.71,236.27 L472.21,236.27 L472.71,236.27 L473.21,236.27 L473.71,236.27 L474.21,236.27 L474.71,236.27 L475.21,236.26 L475.71,236.26 L476.21,236.26 L476.71,236.26 L477.21,236.26 L477.71,236.26 L478.21,236.26 L478.71,236.26 L479.21,236.26 L479.71,236.25 L480.21,236.25 L480.71,236.25 L481.21,236.25 L481.71,236.25 L482.21,236.25 L482.71,236.25 L483.21,236.25 L483.71,236.25 L484.21,236.24 L484.71,236.24 L485.21,236.24 L485.71,236.24 L486.21,236.24 L486.71,236.24 L487.21,236.23 L487.71,236.23 L488.21,236.23 L488.71,236.23 L489.21,236.23 L489.71,236.23 L490.21,236.22 L490.71,236.22 L491.21,236.22 L491.71,236.22 L492.21,236.22 L492.71,236.22 L493.21,236.21 L493.71,236.21 L494.21,236.21 L494.71,236.21 L495.21,236.21 L495.71,236.21 L496.21,236.20 L496.71,236.20 L497.21,236.20 L497.71,236.20 L498.21,236.20 L498.71,236.19 L499.21,236.19 L499.71,236.19 L500.21,236.19 L500.71,236.19 L501.21,236.18 L501.71,236.18 L502.21,236.18 L502.71,236.18 L503.21,236.17 L503.71,236.17 L504.21,236.17 L504.71,236.17 L505.21,236.17 L505.71,236.16 L506.21,236.16 L506.71,236.16 L507.21,236.16 L507.71,236.16 L508.21,236.15 L508.71,236.15 L509.21,236.15 L509.71,236.15 L510.21,236.14 L510.71,236.14 L511.21,236.14 L511.71,236.14 L512.21,236.13 L512.71,236.13 L513.21,236.13 L513.71,236.13 L514.21,236.13 L514.71,236.12 L515.21,236.12 L515.71,236.12 L516.21,236.12 L516.71,236.11 L517.21,236.11 L517.71,236.11 L518.21,236.11 L518.71,236.10 L519.21,236.10 L519.71,236.10 L520.21,236.10 L520.71,236.09 L521.21,236.09 L521.71,236.09 L522.21,236.09 L522.71,236.08 L523.21,236.08 L523.71,236.08 L524.21,236.08 L524.71,236.07 L525.21,236.07 L525.71,236.07 L526.21,236.07 L526.71,236.06 L527.21,236.06 L527.71,236.06 L528.21,236.06 L528.71,236.05 L529.21,236.05 L529.71,236.05 L530.21,236.05 L530.71,236.04 L531.21,236.04 L531.71,236.04 L532.21,236.04 L532.71,236.03 L533.21,236.03 L533.71,236.03 L534.21,236.03 L534.71,236.02 L535.21,236.02 L535.71,236.02 L536.21,236.02 L536.71,236.01 L537.21,236.01 L537.71,236.01 L538.21,236.01 L538.71,236.00 L539.21,236.00 L539.71,236.00 L540.21,236.00 L540.71,235.99 L541.21,235.99 L541.71,235.99 L542.21,235.99 L542.71,235.98 L543.21,235.98 L543.71,235.98 L544.21,235.98 L544.71,235.97 L545.21,235.97 L545.71,235.97 L546.21,235.97 L546.71,235.96 L547.21,235.96 L547.71,235.96 L548.21,235.96 L548.71,235.95 L549.21,235.95 L549.71,235.95 L550.21,235.95 L550.71,235.94 L551.21,235.94 L551.71,235.94 L552.21,235.94 L552.71,235.93 L553.21,235.93 L553.71,235.93 L554.21,235.93 L554.71,235.93 L555.21,235.92 L555.71,235.92 L556.21,235.92 L556.71,235.92 L557.21,235.91 L557.71,235.91 L558.21,235.91 L558.71,235.91 L559.21,235.90 L559.71,235.90 L560.21,235.90 L560.71,235.90 L561.21,235.89 L561.71,235.89 L562.21,235.89 L562.71,235.89 L563.21,235.89 L563.71,235.88 L564.21,235.88 L564.71,235.88 L565.21,235.88 L565.71,235.88 L566.21,235.87 L566.71,235.87 L567.21,235.87 L567.71,235.87 L568.21,235.87 L568.71,235.86 L569.21,235.86 L569.71,235.86 L570.21,235.86 L570.71,235.85 L571.21,235.85 L571.71,235.85 L572.21,235.85 L572.71,235.85 L573.21,235.84 L573.71,235.84 L574.21,235.84 L574.71,235.84 L575.21,235.84 L575.71,235.84 L576.21,235.83 L576.71,235.83 L577.21,235.83 L577.71,235.83 L578.21,235.83 L578.71,235.83 L579.21,235.82 L579.71,235.82 L580.21,235.82 L580.71,235.82 L581.21,235.82 L581.71,235.82 L582.21,235.81 L582.71,235.81 L583.21,235.81 L583.71,235.81 L584.21,235.81 L584.71,235.81 L585.21,235.80 L585.71,235.80 L586.21,235.80" fill="none" stroke="#0000ff" stroke-width="1"/>
<path d="M284.72,60.50L287.22,56.70L289.72,60.50L287.22,64.30ZM284.73,65.00L287.23,61.20L289.73,65.00L287.23,68.80ZM284.73,69.50L287.23,65.70L289.73,69.50L287.23,73.30ZM284.74,74.00L287.24,70.20L289.74,74.00L287.24,77.80ZM284.74,78.50L287.24,74.70L289.74,78.50L287.24,82.30ZM284.75,82.50L287.25,78.70L289.75,82.50L287.25,86.30ZM284.75,87.00L287.25,83.20L289.75,87.00L287.25,90.80ZM583.90,235.80L586.40,232.00L588.90,235.80L586.40,239.60ZM577.03,235.82L579.53,232.02L582.03,235.82L579.53,239.62ZM570.32,235.85L572.82,232.05L575.32,235.85L572.82,239.65ZM563.77,235.87L566.27,232.07L568.77,235.87L566.27,239.67ZM557.36,235.90L559.86,232.10L562.36,235.90L559.86,239.70ZM551.10,235.93L553.60,232.13L556.10,235.93L553.60,239.73ZM544.99,235.96L547.49,232.16L549.99,235.96L547.49,239.76ZM539.02,235.99L541.52,232.19L544.02,235.99L541.52,239.79ZM533.18,236.02L535.68,232.22L538.18,236.02L535.68,239.82ZM527.48,236.05L529.98,232.25L532.48,236.05L529.98,239.85ZM521.90,236.08L524.40,232.28L526.90,236.08L524.40,239.88ZM516.46,236.10L518.96,232.30L521.46,236.10L518.96,239.90ZM511.14,236.13L513.64,232.33L516.14,236.13L513.64,239.93ZM505.94,236.15L508.44,232.35L510.94,236.15L508.44,239.95ZM500.87,236.17L503.37,232.37L505.87,236.17L503.37,239.97ZM495.91,236.19L498.41,232.39L500.91,236.19L498.41,239.99ZM491.06,236.21L493.56,232.41L496.06,236.21L493.56,240.01ZM486.32,236.23L488.82,232.43L491.32,236.23L488.82,240.03ZM481.70,236.24L484.20,232.44L486.70,236.24L484.20,240.04ZM477.17,236.26L479.67,232.46L482.17,236.26L479.67,240.06ZM472.76,236.26L475.26,232.46L477.76,236.26L475.26,240.06ZM468.44,236.27L470.94,232.47L473.44,236.27L470.94,240.07ZM464.23,236.27L466.73,232.47L469.23,236.27L466.73,240.07ZM460.11,236.27L462.61,232.47L465.11,236.27L462.61,240.07ZM456.08,236.27L458.58,232.47L461.08,236.27L458.58,240.07ZM452.15,236.26L454.65,232.46L457.15,236.26L454.65,240.06ZM448.31,236.26L450.81,232.46L453.31,236.26L450.81,240.06ZM444.55,236.24L447.05,232.44L449.55,236.24L447.05,240.04ZM440.88,236.22L443.38,232.42L445.88,236.22L443.38,240.02ZM437.30,236.20L439.80,232.40L442.30,236.20L439.80,240.00ZM433.80,236.17L436.30,232.37L438.80,236.17L436.30,239.97ZM430.38,236.13L432.88,232.33L435.38,236.13L432.88,239.93ZM427.03,236.09L429.53,232.29L432.03,236.09L429.53,239.89ZM423.77,236.04L426.27,232.24L428.77,236.04L426.27,239.84ZM420.58,235.99L423.08,232.19L425.58,235.99L423.08,239.79ZM417.46,235.94L419.96,232.14L422.46,235.94L419.96,239.74ZM414.41,235.88L416.91,232.08L419.41,235.88L416.91,239.68ZM411.44,235.82L413.94,232.02L416.44,235.82L413.94,239.62ZM408.53,235.76L411.03,231.96L413.53,235.76L411.03,239.56ZM405.69,235.70L408.19,231.90L410.69,235.70L408.19,239.50ZM402.91,235.63L405.41,231.83L407.91,235.63L405.41,239.43ZM400.20,235.57L402.70,231.77L405.20,235.57L402.70,239.37ZM397.55,235.51L400.05,231.71L402.55,235.51L400.05,239.31ZM394.96,235.45L397.46,231.65L399.96,235.45L397.46,239.25ZM392.43,235.40L394.93,231.60L397.43,235.40L394.93,239.20ZM389.96,235.35L392.46,231.55L394.96,235.35L392.46,239.15ZM387.55,235.30L390.05,231.50L392.55,235.30L390.05,239.10ZM385.19,235.26L387.69,231.46L390.19,235.26L387.69,239.06ZM382.88,235.22L385.38,231.42L387.88,235.22L385.38,239.02ZM380.63,235.19L383.13,231.39L385.63,235.19L383.13,238.99ZM378.43,235.16L380.93,231.36L383.43,235.16L380.93,238.96ZM376.28,235.14L378.78,231.34L381.28,235.14L378.78,238.94ZM374.18,235.11L376.68,231.31L379.18,235.11L376.68,238.91ZM372.13,235.09L374.63,231.29L377.13,235.09L374.63,238.89ZM370.12,235.06L372.62,231.26L375.12,235.06L372.62,238.86ZM368.17,235.04L370.67,231.24L373.17,235.04L370.67,238.84ZM366.25,235.01L368.75,231.21L371.25,235.01L368.75,238.81ZM364.38,234.99L366.88,231.19L369.38,234.99L366.88,238.79ZM362.55,234.96L365.05,231.16L367.55,234.96L365.05,238.76ZM360.77,234.93L363.27,231.13L365.77,234.93L363.27,238.73ZM359.02,234.89L361.52,231.09L364.02,234.89L361.52,238.69ZM357.32,234.85L359.82,231.05L362.32,234.85L359.82,238.65ZM355.65,234.81L358.15,231.01L360.65,234.81L358.15,238.61ZM354.03,234.76L356.53,230.96L359.03,234.76L356.53,238.56ZM352.44,234.71L354.94,230.91L357.44,234.71L354.94,238.51ZM350.89,234.65L353.39,230.85L355.89,234.65L353.39,238.45ZM349.37,234.59L351.87,230.79L354.37,234.59L351.87,238.39ZM347.89,234.52L350.39,230.72L352.89,234.52L350.39,238.32ZM346.44,234.44L348.94,230.64L351.44,234.44L348.94,238.24ZM345.02,234.36L347.52,230.56L350.02,234.36L347.52,238.16ZM343.64,234.27L346.14,230.47L348.64,234.27L346.14,238.07Z" fill="none" stroke="#0000ff" stroke-width="0.8"/>
<path d="M284.60,121.50L287.50,116.50L290.40,121.50L287.50,126.50ZM284.62,123.00L287.52,118.00L290.42,123.00L287.52,128.00ZM284.63,124.50L287.53,119.50L290.43,124.50L287.53,129.50ZM284.64,125.50L287.54,120.50L290.44,125.50L287.54,130.50ZM284.65,126.50L287.55,121.50L290.45,126.50L287.55,131.50ZM284.66,127.50L287.56,122.50L290.46,127.50L287.56,132.50ZM284.67,129.00L287.57,124.00L290.47,129.00L287.57,134.00ZM284.69,130.50L287.59,125.50L290.49,130.50L287.59,135.50ZM284.70,132.00L287.60,127.00L290.50,132.00L287.60,137.00ZM284.71,133.00L287.61,128.00L290.51,133.00L287.61,138.00ZM284.72,134.00L287.62,129.00L290.52,134.00L287.62,139.00ZM284.72,135.00L287.62,130.00L290.52,135.00L287.62,140.00ZM284.73,136.00L287.63,131.00L290.53,136.00L287.63,141.00ZM284.74,137.00L287.64,132.00L290.54,137.00L287.64,142.00ZM284.75,138.50L287.65,133.50L290.55,138.50L287.65,143.50ZM284.76,139.50L287.66,134.50L290.56,139.50L287.66,144.50ZM284.77,140.50L287.67,135.50L290.57,140.50L287.67,145.50ZM284.78,142.00L287.68,137.00L290.58,142.00L287.68,147.00ZM284.79,143.00L287.69,138.00L290.59,143.00L287.69,148.00ZM284.81,144.50L287.71,139.50L290.61,144.50L287.71,149.50ZM284.82,146.00L287.72,141.00L290.62,146.00L287.72,151.00ZM284.83,147.00L287.73,142.00L290.63,147.00L287.73,152.00ZM284.85,148.50L287.75,143.50L290.65,148.50L287.75,153.50ZM284.86,149.50L287.76,144.50L290.66,149.50L287.76,154.50ZM284.87,151.00L287.77,146.00L290.67,151.00L287.77,156.00ZM284.89,152.50L287.79,147.50L290.69,152.50L287.79,157.50ZM284.90,153.50L287.80,148.50L290.70,153.50L287.80,158.50ZM284.92,155.00L287.82,150.00L290.72,155.00L287.82,160.00ZM284.94,156.50L287.84,151.50L290.74,156.50L287.84,161.50ZM284.97,158.00L287.87,153.00L290.77,158.00L287.87,163.00ZM284.99,159.50L287.89,154.50L290.79,159.50L287.89,164.50ZM285.02,161.00L287.92,156.00L290.82,161.00L287.92,166.00ZM285.05,162.50L287.95,157.50L290.85,162.50L287.95,167.50ZM285.07,163.50L287.97,158.50L290.87,163.50L287.97,168.50ZM285.10,165.00L288.00,160.00L290.90,165.00L288.00,170.00ZM285.13,166.50L288.03,161.50L290.93,166.50L288.03,171.50ZM285.17,168.00L288.07,163.00L290.97,168.00L288.07,173.00ZM285.20,169.50L288.10,164.50L291.00,169.50L288.10,174.50ZM285.24,171.00L288.14,166.00L291.04,171.00L288.14,176.00ZM285.28,172.49L288.18,167.49L291.08,172.49L288.18,177.49ZM285.32,173.99L288.22,168.99L291.12,173.99L288.22,178.99ZM285.35,174.99L288.25,169.99L291.15,174.99L288.25,179.99ZM285.40,176.49L288.30,171.49L291.20,176.49L288.30,181.49ZM285.44,177.99L288.34,172.99L291.24,177.99L288.34,182.99ZM285.48,179.49L288.38,174.49L291.28,179.49L288.38,184.49ZM285.53,180.99L288.43,175.99L291.33,180.99L288.43,185.99ZM285.57,182.49L288.47,177.49L291.37,182.49L288.47,187.49ZM285.62,183.99L288.52,178.99L291.42,183.99L288.52,188.99ZM285.66,185.49L288.56,180.49L291.46,185.49L288.56,190.49ZM285.69,186.49L288.59,181.49L291.49,186.49L288.59,191.49ZM285.73,187.99L288.63,182.99L291.53,187.99L288.63,192.99ZM285.78,189.49L288.68,184.49L291.58,189.49L288.68,194.49ZM285.83,190.99L288.73,185.99L291.63,190.99L288.73,195.99ZM285.88,192.49L288.78,187.49L291.68,192.49L288.78,197.49ZM285.93,193.98L288.83,188.98L291.73,193.98L288.83,198.98ZM285.97,194.98L288.87,189.98L291.77,194.98L288.87,199.98ZM286.03,196.48L288.93,191.48L291.83,196.48L288.93,201.48ZM286.10,197.98L289.00,192.98L291.90,197.98L289.00,202.98ZM286.17,199.48L289.07,194.48L291.97,199.48L289.07,204.48ZM286.26,200.98L289.16,195.98L292.06,200.98L289.16,205.98ZM286.35,202.47L289.25,197.47L292.15,202.47L289.25,207.47ZM286.45,203.97L289.35,198.97L292.25,203.97L289.35,208.97ZM286.56,205.47L289.46,200.47L292.36,205.47L289.46,210.47ZM286.67,206.96L289.57,201.96L292.47,206.96L289.57,211.96ZM286.80,208.46L289.70,203.46L292.60,208.46L289.70,213.46ZM286.92,209.95L289.82,204.95L292.72,209.95L289.82,214.95ZM287.05,211.45L289.95,206.45L292.85,211.45L289.95,216.45ZM287.18,212.94L290.08,207.94L292.98,212.94L290.08,217.94ZM287.28,214.44L290.18,209.44L293.08,214.44L290.18,219.44ZM287.39,215.93L290.29,210.93L293.19,215.93L290.29,220.93ZM287.50,217.43L290.40,212.43L293.30,217.43L290.40,222.43ZM287.64,218.92L290.54,213.92L293.44,218.92L290.54,223.92ZM287.83,220.41L290.73,215.41L293.63,220.41L290.73,225.41ZM288.08,221.89L290.98,216.89L293.88,221.89L290.98,226.89ZM288.40,223.35L291.30,218.35L294.20,223.35L291.30,228.35ZM288.77,224.81L291.67,219.81L294.57,224.81L291.67,229.81Z" fill="#77ac30"/>
<path d="M289.20,226.25L292.10,221.25L295.00,226.25L292.10,231.25ZM289.67,227.67L292.57,222.67L295.47,227.67L292.57,232.67ZM290.21,229.07L293.11,224.07L296.01,229.07L293.11,234.07ZM290.80,230.45L293.70,225.45L296.60,230.45L293.70,235.45ZM291.43,231.81L294.33,226.81L297.23,231.81L294.33,236.81ZM292.12,233.14L295.02,228.14L297.92,233.14L295.02,238.14ZM292.89,234.43L295.79,229.43L298.69,234.43L295.79,239.43ZM293.78,235.63L296.68,230.63L299.58,235.63L296.68,240.63ZM294.81,236.72L297.71,231.72L300.61,236.72L297.71,241.72ZM295.95,237.70L298.85,232.70L301.75,237.70L298.85,242.70ZM297.20,238.53L300.10,233.53L303.00,238.53L300.10,243.53ZM298.52,239.23L301.42,234.23L304.32,239.23L301.42,244.23ZM299.90,239.82L302.80,234.82L305.70,239.82L302.80,244.82ZM301.32,240.30L304.22,235.30L307.12,240.30L304.22,245.30ZM302.76,240.70L305.66,235.70L308.56,240.70L305.66,245.70ZM304.22,241.06L307.12,236.06L310.02,241.06L307.12,246.06ZM305.69,241.37L308.59,236.37L311.49,241.37L308.59,246.37ZM306.67,241.56L309.57,236.56L312.47,241.56L309.57,246.56ZM308.15,241.83L311.05,236.83L313.95,241.83L311.05,246.83ZM309.62,242.09L312.52,237.09L315.42,242.09L312.52,247.09ZM311.10,242.35L314.00,237.35L316.90,242.35L314.00,247.35ZM312.58,242.61L315.48,237.61L318.38,242.61L315.48,247.61ZM314.06,242.86L316.96,237.86L319.86,242.86L316.96,247.86ZM315.54,243.11L318.44,238.11L321.34,243.11L318.44,248.11ZM317.02,243.33L319.92,238.33L322.82,243.33L319.92,248.33ZM318.51,243.54L321.41,238.61L324.30,243.54L321.41,248.47ZM320.00,243.73L322.89,238.87L325.78,243.73L322.89,248.60ZM321.50,243.92L324.38,239.13L327.26,243.92L324.38,248.71ZM322.99,244.10L325.87,239.38L328.75,244.10L325.87,248.82ZM323.99,244.21L326.86,239.54L329.74,244.21L326.86,248.89ZM325.49,244.38L328.35,239.79L331.22,244.38L328.35,248.98ZM326.98,244.55L329.85,240.02L332.71,244.55L329.85,249.08ZM328.48,244.72L331.34,240.26L334.19,244.72L331.34,249.17ZM329.98,244.88L332.83,240.50L335.68,244.88L332.83,249.27ZM331.47,245.05L334.32,240.74L337.16,245.05L334.32,249.36ZM332.97,245.22L335.81,240.98L338.64,245.22L335.81,249.46ZM334.47,245.39L337.30,241.22L340.13,245.39L337.30,249.56ZM335.96,245.55L338.79,241.45L341.61,245.55L338.79,249.65ZM337.46,245.71L340.28,241.68L343.10,245.71L340.28,249.73ZM338.96,245.86L341.77,241.90L344.59,245.86L341.77,249.81ZM340.46,246.00L343.27,242.12L346.07,246.00L343.27,249.88ZM341.96,246.13L344.76,242.32L347.56,246.13L344.76,249.94Z" fill="#86b84c"/>
<path d="M341.20,246.06L344.00,242.26L346.80,246.06L344.00,249.86ZM342.20,246.15L345.00,242.35L347.80,246.15L345.00,249.95ZM343.20,246.23L346.00,242.43L348.80,246.23L346.00,250.03ZM344.20,246.30L347.00,242.50L349.80,246.30L347.00,250.10ZM345.20,246.37L348.00,242.57L350.80,246.37L348.00,250.17ZM346.20,246.44L349.00,242.64L351.80,246.44L349.00,250.24ZM347.20,246.50L350.00,242.70L352.80,246.50L350.00,250.30ZM348.20,246.55L351.00,242.75L353.80,246.55L351.00,250.35ZM349.20,246.61L352.00,242.81L354.80,246.61L352.00,250.41ZM350.20,246.66L353.00,242.86L355.80,246.66L353.00,250.46ZM351.20,246.71L354.00,242.91L356.80,246.71L354.00,250.51ZM352.20,246.75L355.00,242.95L357.80,246.75L355.00,250.55ZM353.20,246.80L356.00,243.00L358.80,246.80L356.00,250.60ZM354.20,246.84L357.00,243.04L359.80,246.84L357.00,250.64ZM355.20,246.88L358.00,243.08L360.80,246.88L358.00,250.68ZM356.20,246.91L359.00,243.11L361.80,246.91L359.00,250.71ZM357.20,246.95L360.00,243.15L362.80,246.95L360.00,250.75ZM358.20,246.99L361.00,243.19L363.80,246.99L361.00,250.79ZM359.20,247.02L362.00,243.22L364.80,247.02L362.00,250.82ZM360.20,247.05L363.00,243.25L365.80,247.05L363.00,250.85ZM361.20,247.08L364.00,243.28L366.80,247.08L364.00,250.88ZM362.20,247.11L365.00,243.31L367.80,247.11L365.00,250.91ZM363.20,247.14L366.00,243.34L368.80,247.14L366.00,250.94ZM364.20,247.17L367.00,243.37L369.80,247.17L367.00,250.97ZM365.20,247.19L368.00,243.39L370.80,247.19L368.00,250.99ZM366.20,247.22L369.00,243.42L371.80,247.22L369.00,251.02ZM367.20,247.25L370.00,243.45L372.80,247.25L370.00,251.05ZM368.20,247.27L371.00,243.47L373.80,247.27L371.00,251.07ZM369.20,247.29L372.00,243.49L374.80,247.29L372.00,251.09ZM370.20,247.32L373.00,243.52L375.80,247.32L373.00,251.12ZM371.20,247.34L374.00,243.54L376.80,247.34L374.00,251.14ZM372.20,247.36L375.00,243.56L377.80,247.36L375.00,251.16ZM373.20,247.38L376.00,243.58L378.80,247.38L376.00,251.18ZM374.20,247.40L377.00,243.60L379.80,247.40L377.00,251.20ZM375.20,247.43L378.00,243.63L380.80,247.43L378.00,251.23ZM376.20,247.45L379.00,243.65L381.80,247.45L379.00,251.25ZM377.20,247.46L380.00,243.66L382.80,247.46L380.00,251.26ZM378.20,247.48L381.00,243.68L383.80,247.48L381.00,251.28ZM379.20,247.50L382.00,243.70L384.80,247.50L382.00,251.30ZM380.20,247.52L383.00,243.72L385.80,247.52L383.00,251.32ZM381.20,247.54L384.00,243.74L386.80,247.54L384.00,251.34ZM382.20,247.56L385.00,243.76L387.80,247.56L385.00,251.36ZM383.20,247.58L386.00,243.78L388.80,247.58L386.00,251.38ZM384.20,247.59L387.00,243.79L389.80,247.59L387.00,251.39ZM385.20,247.61L388.00,243.81L390.80,247.61L388.00,251.41ZM386.20,247.63L389.00,243.83L391.80,247.63L389.00,251.43Z" fill="#77ac30" opacity="0.35"/>
<path d="M287.50,121.00 L287.50,121.50 L287.51,122.00 L287.51,122.50 L287.52,123.00 L287.52,123.50 L287.53,124.00 L287.53,124.50 L287.54,125.00 L287.54,125.50 L287.55,126.00 L287.55,126.50 L287.56,127.00 L287.56,127.50 L287.57,128.00 L287.57,128.50 L287.57,129.00 L287.58,129.50 L287.58,130.00 L287.59,130.50 L287.59,131.00 L287.60,131.50 L287.60,132.00 L287.60,132.50 L287.61,133.00 L287.61,133.50 L287.62,134.00 L287.62,134.50 L287.62,135.00 L287.63,135.50 L287.63,136.00 L287.64,136.50 L287.64,137.00 L287.65,137.50 L287.65,138.00 L287.65,138.50 L287.66,139.00 L287.66,139.50 L287.67,140.00 L287.67,140.50 L287.68,141.00 L287.68,141.50 L287.68,142.00 L287.69,142.50 L287.69,143.00 L287.70,143.50 L287.70,144.00 L287.71,144.50 L287.71,145.00 L287.72,145.50 L287.72,146.00 L287.73,146.50 L287.73,147.00 L287.74,147.50 L287.74,148.00 L287.75,148.50 L287.75,149.00 L287.76,149.50 L287.76,150.00 L287.77,150.50 L287.77,151.00 L287.78,151.50 L287.79,152.00 L287.79,152.50 L287.80,153.00 L287.80,153.50 L287.81,154.00 L287.82,154.50 L287.82,155.00 L287.83,155.50 L287.84,156.00 L287.84,156.50 L287.85,157.00 L287.86,157.50 L287.87,158.00 L287.88,158.50 L287.88,159.00 L287.89,159.50 L287.90,160.00 L287.91,160.50 L287.92,161.00 L287.93,161.50 L287.94,162.00 L287.95,162.50 L287.96,163.00 L287.97,163.50 L287.98,164.00 L287.99,164.50 L288.00,165.00 L288.01,165.50 L288.02,166.00 L288.03,166.50 L288.04,167.00 L288.05,167.50 L288.07,168.00 L288.08,168.50 L288.09,169.00 L288.10,169.50 L288.12,170.00 L288.13,170.50 L288.14,171.00 L288.16,171.49 L288.17,171.99 L288.18,172.49 L288.20,172.99 L288.21,173.49 L288.22,173.99 L288.24,174.49 L288.25,174.99 L288.27,175.49 L288.28,175.99 L288.30,176.49 L288.31,176.99 L288.33,177.49 L288.34,177.99 L288.35,178.49 L288.37,178.99 L288.38,179.49 L288.40,179.99 L288.41,180.49 L288.43,180.99 L288.44,181.49 L288.46,181.99 L288.47,182.49 L288.49,182.99 L288.50,183.49 L288.52,183.99 L288.53,184.49 L288.55,184.99 L288.56,185.49 L288.57,185.99 L288.59,186.49 L288.60,186.99 L288.62,187.49 L288.63,187.99 L288.65,188.49 L288.66,188.99 L288.68,189.49 L288.69,189.99 L288.71,190.49 L288.73,190.99 L288.74,191.49 L288.76,191.99 L288.78,192.49 L288.80,192.99 L288.81,193.49 L288.83,193.98 L288.85,194.48 L288.87,194.98 L288.89,195.48 L288.91,195.98 L288.93,196.48 L288.95,196.98 L288.98,197.48 L289.00,197.98 L289.02,198.48 L289.05,198.98 L289.07,199.48 L289.10,199.98 L289.13,200.48 L289.16,200.98 L289.19,201.48 L289.22,201.98 L289.25,202.47 L289.28,202.97 L289.31,203.47 L289.35,203.97 L289.38,204.47 L289.42,204.97 L289.46,205.47 L289.50,205.97 L289.53,206.46 L289.57,206.96 L289.61,207.46 L289.65,207.96 L289.70,208.46 L289.74,208.96 L289.78,209.45 L289.82,209.95 L289.87,210.45 L289.91,210.95 L289.95,211.45 L290.00,211.94 L290.04,212.44 L290.08,212.94 L290.11,213.44 L290.15,213.94 L290.18,214.44 L290.22,214.94 L290.25,215.44 L290.29,215.93 L290.32,216.43 L290.36,216.93 L290.40,217.43 L290.44,217.93 L290.49,218.43 L290.54,218.92 L290.60,219.42 L290.66,219.92 L290.73,220.41 L290.80,220.91 L290.89,221.40 L290.98,221.89 L291.08,222.38 L291.19,222.87 L291.30,223.35 L291.42,223.84 L291.54,224.32 L291.67,224.81 L291.81,225.29 L291.95,225.77 L292.10,226.25 L292.25,226.72 L292.41,227.20 L292.57,227.67 L292.74,228.14 L292.92,228.61 L293.11,229.07 L293.30,229.53 L293.50,229.99 L293.70,230.45 L293.91,230.90 L294.12,231.36 L294.33,231.81 L294.55,232.26 L294.78,232.70 L295.02,233.14 L295.26,233.58 L295.52,234.01 L295.79,234.43 L296.07,234.84 L296.37,235.24 L296.68,235.63 L297.01,236.01 L297.35,236.37 L297.71,236.72 L298.08,237.06 L298.46,237.39 L298.85,237.70 L299.25,237.99 L299.67,238.27 L300.10,238.53 L300.53,238.78 L300.97,239.01 L301.42,239.23 L301.87,239.44 L302.34,239.64 L302.80,239.82 L303.27,239.99 L303.74,240.15 L304.22,240.30 L304.70,240.44 L305.18,240.58 L305.66,240.70 L306.15,240.83 L306.64,240.94 L307.12,241.06 L307.61,241.16 L308.10,241.27 L308.59,241.37 L309.08,241.46 L309.57,241.56 L310.06,241.65 L310.55,241.74 L311.05,241.83 L311.54,241.92 L312.03,242.01 L312.52,242.09 L313.02,242.18 L313.51,242.27 L314.00,242.35 L314.49,242.44 L314.99,242.52 L315.48,242.61 L315.97,242.69 L316.46,242.78 L316.96,242.86 L317.45,242.95 L317.94,243.03 L318.44,243.11 L318.93,243.18 L319.43,243.26 L319.92,243.33 L320.42,243.40 L320.91,243.47 L321.41,243.54 L321.90,243.60 L322.40,243.67 L322.89,243.73 L323.39,243.80 L323.89,243.86 L324.38,243.92 L324.88,243.98 L325.37,244.04 L325.87,244.10 L326.37,244.16 L326.86,244.21 L327.36,244.27 L327.86,244.33 L328.35,244.38 L328.85,244.44 L329.35,244.50 L329.85,244.55 L330.34,244.61 L330.84,244.66 L331.34,244.72 L331.83,244.77 L332.33,244.83 L332.83,244.88 L333.32,244.94 L333.82,244.99 L334.32,245.05 L334.81,245.10 L335.31,245.16 L335.81,245.22 L336.30,245.27 L336.80,245.33 L337.30,245.39 L337.80,245.44 L338.29,245.50 L338.79,245.55 L339.29,245.60 L339.78,245.66 L340.28,245.71 L340.78,245.76 L341.28,245.81 L341.77,245.86 L342.27,245.91 L342.77,245.95 L343.27,246.00 L343.77,246.04 L344.26,246.09 L344.76,246.13 L345.26,246.17 L345.76,246.21 L346.26,246.25 L346.76,246.28 L347.25,246.32 L347.75,246.35 L348.25,246.39 L348.75,246.42 L349.25,246.45 L349.75,246.48 L350.25,246.51 L350.75,246.54 L351.25,246.57 L351.75,246.59 L352.24,246.62 L352.74,246.65 L353.24,246.67 L353.74,246.70 L354.24,246.72 L354.74,246.74 L355.24,246.76 L355.74,246.79 L356.24,246.81 L356.74,246.83 L357.24,246.85 L357.74,246.87 L358.24,246.89 L358.74,246.90 L359.24,246.92 L359.74,246.94 L360.24,246.96 L360.74,246.98 L361.24,246.99 L361.74,247.01 L362.24,247.03 L362.74,247.04 L363.24,247.06 L363.74,247.07 L364.24,247.09 L364.74,247.10 L365.24,247.12 L365.73,247.13 L366.23,247.15 L366.73,247.16 L367.23,247.17 L367.73,247.19 L368.23,247.20 L368.73,247.21 L369.23,247.23 L369.73,247.24 L370.23,247.25 L370.73,247.26 L371.23,247.28 L371.73,247.29 L372.23,247.30 L372.73,247.31 L373.23,247.32 L373.73,247.34 L374.23,247.35 L374.73,247.36 L375.23,247.37 L375.73,247.38 L376.23,247.39 L376.73,247.40 L377.23,247.41 L377.73,247.42 L378.23,247.43 L378.73,247.44 L379.23,247.45 L379.73,247.46 L380.23,247.47 L380.73,247.48 L381.23,247.49 L381.73,247.50 L382.23,247.51 L382.73,247.52 L383.23,247.53 L383.73,247.54 L384.23,247.54 L384.73,247.55 L385.23,247.56 L385.73,247.57 L386.23,247.58 L386.73,247.59 L387.23,247.60 L387.73,247.60 L388.23,247.61 L388.73,247.62 L389.23,247.63 L389.73,247.64 L390.23,247.65 L390.73,247.65 L391.23,247.66 L391.73,247.67 L392.23,247.68 L392.73,247.69 L393.23,247.69 L393.73,247.70 L394.23,247.71 L394.73,247.72 L395.23,247.73 L395.73,247.73 L396.23,247.74 L396.73,247.75 L397.23,247.76 L397.73,247.76 L398.23,247.77 L398.73,247.78 L399.23,247.79 L399.73,247.80 L400.23,247.80 L400.73,247.81 L401.23,247.82 L401.73,247.83 L402.23,247.83 L402.73,247.84 L403.23,247.85 L403.73,247.85 L404.23,247.86 L404.73,247.87 L405.23,247.87 L405.73,247.88 L406.23,247.89 L406.73,247.89 L407.23,247.90 L407.73,247.90 L408.23,247.91 L408.73,247.91 L409.23,247.92 L409.73,247.92 L410.23,247.93 L410.73,247.93 L411.23,247.94 L411.73,247.94 L412.23,247.94 L412.73,247.95 L413.23,247.95 L413.73,247.95 L414.23,247.96 L414.73,247.96 L415.23,247.96 L415.73,247.97 L416.23,247.97 L416.73,247.97 L417.23,247.97 L417.73,247.98 L418.23,247.98 L418.73,247.98 L419.23,247.98 L419.73,247.98 L420.23,247.99 L420.73,247.99 L421.23,247.99 L421.73,247.99 L422.23,247.99 L422.73,247.99 L423.23,247.99 L423.73,247.99 L424.23,247.99 L424.73,248.00 L425.23,248.00 L425.73,248.00 L426.23,248.00 L426.73,248.00 L427.23,248.00 L427.73,248.00 L428.23,248.00 L428.73,248.00 L429.23,248.00 L429.73,248.00 L430.23,248.00 L430.73,248.00 L431.23,248.00 L431.73,248.00 L432.23,248.00 L432.73,248.00 L433.23,248.00 L433.73,248.00 L434.23,248.00 L434.73,248.00 L435.23,248.00 L435.73,248.00 L436.23,248.00 L436.73,248.00 L437.23,248.00 L437.73,248.00 L438.23,248.00 L438.73,248.00 L439.23,248.00 L439.73,248.00 L440.23,248.00 L440.73,248.00 L441.23,248.00 L441.73,248.00 L442.23,248.00 L442.73,248.00 L443.23,248.00 L443.73,248.00 L444.23,248.00 L444.73,248.00 L445.23,248.00 L445.73,247.99 L446.23,247.99 L446.73,247.99 L447.23,247.99 L447.73,247.99 L448.23,247.99 L448.73,247.99 L449.23,247.99 L449.73,247.99 L450.23,247.99 L450.73,247.99 L451.23,247.99 L451.73,247.98 L452.23,247.98 L452.73,247.98 L453.23,247.98 L453.73,247.98 L454.23,247.98 L454.73,247.98 L455.23,247.98 L455.73,247.97 L456.23,247.97 L456.73,247.97 L457.23,247.97 L457.73,247.97 L458.23,247.97 L458.73,247.97 L459.23,247.97 L459.73,247.96 L460.23,247.96 L460.73,247.96 L461.23,247.96 L461.73,247.96 L462.23,247.95 L462.73,247.95 L463.23,247.95 L463.73,247.95 L464.23,247.95 L464.73,247.94 L465.23,247.94 L465.73,247.94 L466.23,247.94 L466.73,247.94 L467.23,247.94 L467.73,247.93 L468.23,247.93 L468.73,247.93 L469.23,247.93 L469.73,247.93 L470.23,247.92 L470.73,247.92 L471.23,247.92 L471.73,247.92 L472.23,247.92 L472.73,247.91 L473.23,247.91 L473.73,247.91 L474.23,247.91 L474.73,247.90 L475.23,247.90 L475.73,247.90 L476.23,247.90 L476.73,247.90 L477.23,247.89 L477.73,247.89 L478.23,247.89 L478.73,247.89 L479.23,247.88 L479.73,247.88 L480.23,247.88 L480.73,247.88 L481.23,247.88 L481.73,247.87 L482.23,247.87 L482.73,247.87 L483.23,247.87 L483.73,247.86 L484.23,247.86 L484.73,247.86 L485.23,247.86 L485.73,247.85 L486.23,247.85 L486.73,247.85 L487.23,247.85 L487.73,247.84 L488.23,247.84 L488.73,247.84 L489.23,247.84 L489.73,247.83 L490.23,247.83 L490.73,247.83 L491.23,247.83 L491.73,247.82 L492.23,247.82 L492.73,247.82 L493.23,247.82 L493.73,247.81 L494.23,247.81 L494.73,247.81 L495.23,247.81 L495.73,247.80 L496.23,247.80 L496.73,247.80 L497.23,247.79 L497.73,247.79 L498.23,247.79 L498.73,247.79 L499.23,247.78 L499.73,247.78 L500.23,247.78 L500.73,247.78 L501.23,247.77 L501.73,247.77 L502.23,247.77 L502.73,247.76 L503.23,247.76 L503.73,247.76 L504.23,247.76 L504.73,247.75 L505.23,247.75 L505.73,247.75 L506.23,247.75 L506.73,247.74 L507.23,247.74 L507.73,247.74 L508.23,247.73 L508.73,247.73 L509.23,247.73 L509.73,247.73 L510.23,247.72 L510.73,247.72 L511.23,247.72 L511.73,247.71 L512.23,247.71 L512.73,247.71 L513.23,247.71 L513.73,247.70 L514.23,247.70 L514.73,247.70 L515.23,247.69 L515.73,247.69 L516.23,247.69 L516.73,247.69 L517.23,247.68 L517.73,247.68 L518.23,247.68 L518.73,247.68 L519.23,247.67 L519.73,247.67 L520.23,247.67 L520.73,247.66 L521.23,247.66 L521.73,247.66 L522.23,247.66 L522.73,247.65 L523.23,247.65 L523.73,247.65 L524.23,247.64 L524.73,247.64 L525.23,247.64 L525.73,247.63 L526.23,247.63 L526.73,247.63 L527.23,247.63 L527.73,247.62 L528.23,247.62 L528.73,247.62 L529.23,247.61 L529.73,247.61 L530.23,247.61 L530.73,247.61 L531.23,247.60 L531.73,247.60 L532.23,247.60 L532.73,247.59 L533.23,247.59 L533.73,247.59 L534.23,247.59 L534.73,247.58 L535.23,247.58 L535.73,247.58 L536.23,247.57 L536.73,247.57 L537.23,247.57 L537.73,247.57 L538.23,247.56 L538.73,247.56 L539.23,247.56 L539.73,247.55 L540.23,247.55 L540.73,247.55 L541.23,247.55 L541.73,247.54 L542.23,247.54 L542.73,247.54 L543.23,247.53 L543.73,247.53 L544.23,247.53 L544.73,247.53 L545.23,247.52 L545.73,247.52 L546.23,247.52 L546.73,247.51 L547.23,247.51 L547.73,247.51 L548.23,247.51 L548.73,247.50 L549.23,247.50 L549.73,247.50 L550.23,247.49 L550.73,247.49 L551.23,247.49 L551.73,247.49 L552.23,247.48 L552.73,247.48 L553.23,247.48 L553.73,247.47 L554.23,247.47 L554.73,247.47 L555.23,247.47 L555.73,247.46 L556.23,247.46 L556.73,247.46 L557.23,247.45 L557.73,247.45 L558.23,247.45 L558.73,247.45 L559.23,247.44 L559.73,247.44 L560.23,247.44 L560.73,247.43 L561.23,247.43 L561.73,247.43 L562.23,247.43 L562.73,247.42 L563.23,247.42 L563.73,247.42 L564.23,247.42 L564.73,247.41 L565.23,247.41 L565.73,247.41 L566.23,247.40 L566.73,247.40 L567.23,247.40 L567.73,247.40 L568.23,247.39 L568.73,247.39 L569.23,247.39 L569.73,247.39 L570.23,247.38 L570.73,247.38 L571.23,247.38 L571.73,247.37 L572.23,247.37 L572.73,247.37 L573.23,247.37 L573.73,247.36 L574.23,247.36 L574.73,247.36 L575.23,247.36 L575.73,247.35 L576.23,247.35 L576.73,247.35 L577.23,247.35 L577.73,247.34 L578.23,247.34 L578.73,247.34 L579.23,247.34 L579.73,247.33 L580.23,247.33 L580.73,247.33 L581.23,247.33 L581.73,247.32 L582.23,247.32 L582.73,247.32 L583.23,247.32 L583.73,247.31 L584.23,247.31 L584.73,247.31 L585.23,247.31 L585.73,247.30 L586.23,247.30" fill="none" stroke="#77ac30" stroke-width="1"/>
<path d="M583.90,247.30L586.40,243.50L588.90,247.30L586.40,251.10ZM577.03,247.33L579.53,243.53L582.03,247.33L579.53,251.13ZM570.32,247.37L572.82,243.57L575.32,247.37L572.82,251.17ZM563.77,247.40L566.27,243.60L568.77,247.40L566.27,251.20ZM557.36,247.44L559.86,243.64L562.36,247.44L559.86,251.24ZM551.10,247.47L553.60,243.67L556.10,247.47L553.60,251.27ZM544.99,247.51L547.49,243.71L549.99,247.51L547.49,251.31ZM539.02,247.54L541.52,243.74L544.02,247.54L541.52,251.34ZM533.18,247.58L535.68,243.78L538.18,247.58L535.68,251.38ZM527.48,247.61L529.98,243.81L532.48,247.61L529.98,251.41ZM521.90,247.64L524.40,243.84L526.90,247.64L524.40,251.44ZM516.46,247.67L518.96,243.87L521.46,247.67L518.96,251.47ZM511.14,247.70L513.64,243.90L516.14,247.70L513.64,251.50ZM505.94,247.73L508.44,243.93L510.94,247.73L508.44,251.53ZM500.87,247.76L503.37,243.96L505.87,247.76L503.37,251.56ZM495.91,247.79L498.41,243.99L500.91,247.79L498.41,251.59ZM491.06,247.81L493.56,244.01L496.06,247.81L493.56,251.61ZM486.32,247.84L488.82,244.04L491.32,247.84L488.82,251.64ZM481.70,247.86L484.20,244.06L486.70,247.86L484.20,251.66ZM477.17,247.88L479.67,244.08L482.17,247.88L479.67,251.68ZM472.76,247.90L475.26,244.10L477.76,247.90L475.26,251.70ZM468.44,247.92L470.94,244.12L473.44,247.92L470.94,251.72ZM464.23,247.94L466.73,244.14L469.23,247.94L466.73,251.74ZM460.11,247.95L462.61,244.15L465.11,247.95L462.61,251.75ZM456.08,247.97L458.58,244.17L461.08,247.97L458.58,251.77ZM452.15,247.98L454.65,244.18L457.15,247.98L454.65,251.78ZM448.31,247.99L450.81,244.19L453.31,247.99L450.81,251.79ZM444.55,247.99L447.05,244.19L449.55,247.99L447.05,251.79ZM440.88,248.00L443.38,244.20L445.88,248.00L443.38,251.80ZM437.30,248.00L439.80,244.20L442.30,248.00L439.80,251.80ZM433.80,248.00L436.30,244.20L438.80,248.00L436.30,251.80ZM430.38,248.00L432.88,244.20L435.38,248.00L432.88,251.80ZM427.03,248.00L429.53,244.20L432.03,248.00L429.53,251.80ZM423.77,248.00L426.27,244.20L428.77,248.00L426.27,251.80ZM420.58,247.99L423.08,244.19L425.58,247.99L423.08,251.79ZM417.46,247.98L419.96,244.18L422.46,247.98L419.96,251.78ZM414.41,247.97L416.91,244.17L419.41,247.97L416.91,251.77ZM411.44,247.96L413.94,244.16L416.44,247.96L413.94,251.76ZM408.53,247.93L411.03,244.13L413.53,247.93L411.03,251.73ZM405.69,247.91L408.19,244.11L410.69,247.91L408.19,251.71ZM402.91,247.88L405.41,244.08L407.91,247.88L405.41,251.68ZM400.20,247.84L402.70,244.04L405.20,247.84L402.70,251.64ZM397.55,247.80L400.05,244.00L402.55,247.80L400.05,251.60ZM394.96,247.76L397.46,243.96L399.96,247.76L397.46,251.56ZM392.43,247.72L394.93,243.92L397.43,247.72L394.93,251.52ZM389.96,247.68L392.46,243.88L394.96,247.68L392.46,251.48ZM387.55,247.64L390.05,243.84L392.55,247.64L390.05,251.44ZM385.19,247.60L387.69,243.80L390.19,247.60L387.69,251.40ZM382.88,247.56L385.38,243.76L387.88,247.56L385.38,251.36ZM380.63,247.52L383.13,243.72L385.63,247.52L383.13,251.32ZM378.43,247.48L380.93,243.68L383.43,247.48L380.93,251.28ZM376.28,247.44L378.78,243.64L381.28,247.44L378.78,251.24ZM374.18,247.40L376.68,243.60L379.18,247.40L376.68,251.20ZM372.13,247.35L374.63,243.55L377.13,247.35L374.63,251.15ZM370.12,247.31L372.62,243.51L375.12,247.31L372.62,251.11ZM368.17,247.26L370.67,243.46L373.17,247.26L370.67,251.06ZM366.25,247.21L368.75,243.41L371.25,247.21L368.75,251.01ZM364.38,247.16L366.88,243.36L369.38,247.16L366.88,250.96ZM362.55,247.11L365.05,243.31L367.55,247.11L365.05,250.91ZM360.77,247.06L363.27,243.26L365.77,247.06L363.27,250.86ZM359.02,247.00L361.52,243.20L364.02,247.00L361.52,250.80ZM357.32,246.94L359.82,243.14L362.32,246.94L359.82,250.74ZM355.65,246.88L358.15,243.08L360.65,246.88L358.15,250.68ZM354.03,246.82L356.53,243.02L359.03,246.82L356.53,250.62ZM352.44,246.75L354.94,242.95L357.44,246.75L354.94,250.55ZM350.89,246.68L353.39,242.88L355.89,246.68L353.39,250.48ZM349.37,246.60L351.87,242.80L354.37,246.60L351.87,250.40ZM347.89,246.52L350.39,242.72L352.89,246.52L350.39,250.32ZM346.44,246.43L348.94,242.63L351.44,246.43L348.94,250.23ZM345.02,246.34L347.52,242.54L350.02,246.34L347.52,250.14ZM343.64,246.24L346.14,242.44L348.64,246.24L346.14,250.04Z" fill="none" stroke="#77ac30" stroke-width="0.8"/>
</g>
<path d="M286.65000000000003,249.3H587.05" stroke="#000" stroke-width="1.3"/>
<!-- dotted boxes -->
<rect x="277.5" y="43.9" width="24.5" height="78.6" fill="none" stroke="#000" stroke-width="1.4" stroke-dasharray="1.5,1.5"/>
<rect x="437.2" y="222.0" width="144.3" height="33.0" fill="none" stroke="#000" stroke-width="1.4" stroke-dasharray="1.5,1.5"/>
<g font-size="11.2" font-style="italic" text-anchor="middle" stroke="#000" stroke-width="0.2">
<text x="359.4" y="80.6">low -shear region</text>
<text x="359.4" y="92.7">high viscosity desired</text>
<text x="360.9" y="105">high viscosity obtained</text>
<text x="500.3" y="190.5">high -shear region</text>
<text x="501.5" y="203.8">low viscosity desired</text>
<text x="502.9" y="217">low viscosity obtained</text>
</g>
<!-- legend -->
<rect x="413.3" y="26.9" width="167.1" height="49.8" fill="#fff" stroke="#000" stroke-width="1.2"/>
<path d="M416.5,36.4H443.3" stroke="#ff0000" stroke-width="0.8"/>
<circle cx="430" cy="36.4" r="2.6" fill="none" stroke="#ff0000" stroke-width="0.8"/>
<path d="M416.5,52.5H443.3" stroke="#0000ff" stroke-width="0.8"/>
<path d="M427.30,52.50L430.00,48.90L432.70,52.50L430.00,56.10Z" fill="none" stroke="#0000ff" stroke-width="0.8"/>
<path d="M416.5,68.6H443.3" stroke="#77ac30" stroke-width="0.8"/>
<path d="M427.30,68.60L430.00,65.00L432.70,68.60L430.00,72.20Z" fill="none" stroke="#77ac30" stroke-width="0.8"/>
<g font-size="13.4" font-weight="bold" stroke="#000" stroke-width="0.25">
<text x="445.8" y="42.1">slurry by NMP</text>
<text x="445.8" y="57.6">slurry by DMI</text>
<text x="445.8" y="73.1">slurry by PolarClean</text>
</g>
</svg>
</body></html>
